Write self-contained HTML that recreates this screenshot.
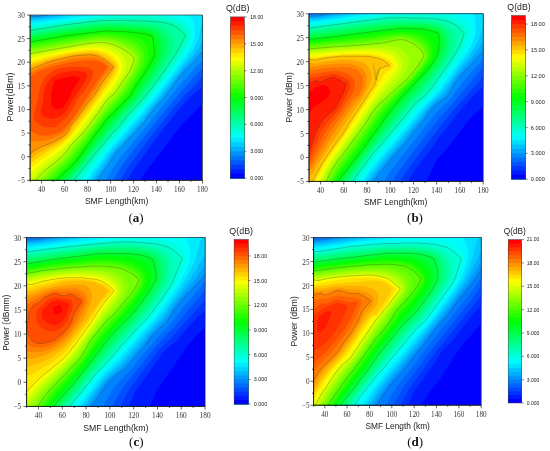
<!DOCTYPE html>
<html><head><meta charset="utf-8"><title>Q factor contour maps</title>
<style>html,body{margin:0;padding:0;background:#fff}svg{display:block}</style></head>
<body>
<svg width="550" height="451" viewBox="0 0 550 451">
<rect width="550" height="451" fill="#fff"/>
<g id="plot-a">
<clipPath id="cpa"><rect x="30.1" y="15.0" width="172.4" height="165.3"/></clipPath>
<g clip-path="url(#cpa)" shape-rendering="geometricPrecision">
<rect x="30.1" y="15.0" width="172.4" height="165.3" fill="#0000ff"/>
<path d="M18.1,3 214.5,3 214.5,95.8 211.5,94.9 210.5,95.4 201.4,104.9 183.5,122.4 151.5,164 134.5,187.7 131.6,192.3 18.1,192.3 18.1,3Z" fill="#001dff" fill-rule="evenodd"/>
<path d="M18.1,3 214.5,3 214.5,77.2 207.5,82.4 201.8,87.4 196,91.9 191,96.4 186.5,100.9 177.5,110.9 151.5,144.4 137,164.8 131.5,172.8 128,179.3 124,185.4 120.1,192.3 18.1,192.3 18.1,3Z" fill="#003aff" fill-rule="evenodd"/>
<path d="M18.1,3 214.5,3 214.5,72.3 210,73.2 203,76.1 199.1,80.9 184,96 173.2,108.4 146,142.9 129.4,165.3 124.6,172.8 119,182.8 116.6,188.3 115.9,192.3 18.1,192.3 18.1,3Z" fill="#0057ff" fill-rule="evenodd"/>
<path d="M18.1,3 214.5,3 214.5,66 207.5,66.8 203,67.9 202,68.6 182,90.6 169.1,105.9 134.9,148.3 123.5,163.4 117.3,173.3 113.3,180.8 111.2,186.8 110.4,192.3 18.1,192.3 18.1,3Z" fill="#0075ff" fill-rule="evenodd"/>
<path d="M18.1,3 214.5,3 214.5,57.7 208.5,58.5 203.5,59.9 202,60.7 188.9,74.4 180.5,84.2 158.5,111.1 147,125.8 132.7,142.4 120,157.8 111.1,171.3 106.6,179.3 103.8,186.3 102.9,192.3 18.1,192.3 18.1,3ZM30.6,14.4 30.4,15 31.1,15.2 33.7,15 34.2,14.5 32.6,14.1 30.6,14.4Z" fill="#0092ff" fill-rule="evenodd"/>
<path d="M18.1,3 29.8,3 28.4,11.5 28.4,14.5 28.8,15.5 30.1,16.5 33.1,17 44.1,15.8 48.6,15 49.6,14.5 47.8,6.5 47.4,3 214.5,3 214.5,40.9 213,40.6 212.5,40.9 204,49.7 202.7,51.4 201.5,52.4 194,60.8 184.5,70.4 180,75.8 162.7,98.9 154.5,107.9 143.5,122.6 129.3,137.9 123,145.2 116.1,151.9 114.6,154 110.3,161.3 95.6,181.9 90.1,190.2 89,192.3 18.1,192.3 18.1,3Z" fill="#00afff" fill-rule="evenodd"/>
<path d="M63.8,3 214.5,3 214.5,32.5 211.5,33 208.5,34.3 206,36.2 203,39.3 199.3,47.5 196.1,52.4 191.7,57.9 179.2,72.4 161.8,95.4 152.4,106.4 141.5,120.4 121.7,142.4 113.7,150.8 107.1,160.6 91.5,182.3 87.9,188.3 87,190.3 86.6,192.3 18.1,192.3 18.1,11.5 20.1,11.9 22.1,12.8 28.6,17.8 32.1,18.7 35.6,18.8 40.1,18.4 60.3,15.5 62.7,15 63.7,14.5 63.9,14 63.8,3Z" fill="#00ccff" fill-rule="evenodd"/>
<path d="M79.2,3 214.5,3 214.5,15.2 212,15.5 209,16.5 203.5,19.4 202.5,20.3 201.4,23.5 199.6,34 197.8,40.5 195.3,46.5 191.6,52.4 187.6,57.9 176.5,71.7 160.5,92.9 143.5,113.7 110.7,150.8 93.9,173.8 89.1,180.9 85.6,187.3 84.7,189.8 84.4,192.3 18.1,192.3 18.1,17.5 21.6,18 29.6,20.4 35.6,20.8 46.1,19.6 76.9,15 78.3,14.5 78.6,14 79.2,3Z" fill="#00e9ff" fill-rule="evenodd"/>
<path d="M96.7,3 184.7,3 185.2,14.5 189.4,17 191.5,19 193.2,22 194.5,26.4 195,30.5 194.8,35 194.1,39 192.6,43.5 189.8,49 185.6,55.4 158.5,91.4 141,112.7 110.6,147.2 93.3,169.8 87.6,177.8 84.3,183.3 82.4,187.8 81.6,192.3 18.1,192.3 18.1,21.5 30.6,22.9 37.6,22.7 94.5,15 95.8,14.5 96.1,14 96.7,3Z" fill="#00fff8" fill-rule="evenodd"/>
<path d="M123,3.5 123.1,3 153.1,3 153.7,9 154.8,14 155.3,14.5 157.1,15 169,16.4 174.5,17.5 180,19.2 184,21.4 186.5,23.6 188.7,26.5 190.1,29.5 191,33 191,36 190.4,39.5 189.1,43 186.9,47.5 179.9,58.4 155.3,91.4 142,107.6 108.9,145.3 88.6,171.3 84,177.8 80.7,183.3 78.9,187.8 78.2,192.3 18.1,192.3 18.1,25.1 30.1,25.3 37.6,24.9 79.6,18.9 119.7,14.5 120.5,13.7 121.9,10 122.7,6.5 123,3.5Z" fill="#00ffdb" fill-rule="evenodd"/>
<path d="M134.1,17.5 140,17.3 146.5,17.6 161,18.8 167,19.7 172,20.8 176,22.2 179.5,24.1 182.5,26.3 185,28.8 187,31.7 187.9,34 188,36.5 187.2,39.5 185.2,44 178.2,55.9 158.4,83.4 143.7,101.9 130,116.9 121.9,126.9 110.1,140.1 98.6,153.8 84.1,172.3 79.5,178.8 76.2,184.3 74.4,188.8 73.8,192.3 18.1,192.3 18.1,28.5 27.6,28.1 36.6,27.2 70.6,22.1 95.6,19.1 110.1,18 134.1,17.5Z" fill="#00ffbd" fill-rule="evenodd"/>
<path d="M102.9,20.5 126,20.4 130.5,20.8 147,21 161,22.1 167,23.3 173.5,25.4 175.5,26.5 179.5,29.4 184.9,34.5 185.2,35.5 185,36.5 182.5,41.9 175.9,53.9 164.2,70.9 152.9,86.4 139,103.6 127.5,115.4 119.8,125.4 113.2,132.4 97.5,150.8 82.5,169.3 74,180.3 68.6,187.8 65.8,192.3 18.1,192.3 18.1,32.2 67.6,24.5 90.6,21.6 102.9,20.5Z" fill="#00ffa0" fill-rule="evenodd"/>
<path d="M102.3,22.5 123.5,22.4 145.5,23.3 156.3,25 160,26 163.5,27.5 167,29.7 170,32.5 172.3,36 173.4,39.5 173.6,43.5 172.9,47.5 171.5,51.9 169.3,56.9 165,64.4 156.3,77.4 142,96.4 136.6,102.9 125.7,114.4 96.1,149.5 69.4,182.8 65.1,189 64.2,190.8 63.8,192.3 18.1,192.3 18.1,34.1 25.6,33.2 68.1,26.4 91.1,23.5 102.3,22.5Z" fill="#00ff83" fill-rule="evenodd"/>
<path d="M100,24.5 107.6,24.1 120.5,24.2 142.5,25.2 152,26.7 155.5,27.8 158.5,29.2 161.8,31.5 164.7,34.5 166.7,38 167.8,42 168,46 167.4,50.4 166,55.4 163.8,60.4 160.2,66.9 154.6,75.4 139,96.9 134.4,102.4 124,113.4 110.1,129.5 95.6,147.2 84.1,161.9 69.1,179.8 63.8,187.3 62.7,189.8 62.2,192.3 18.1,192.3 18.1,35.8 26.1,34.9 67.6,28.3 88.6,25.6 100,24.5Z" fill="#00ff66" fill-rule="evenodd"/>
<path d="M103.6,26 123,26.1 141.5,27.2 150,28.6 153.5,29.8 156,31.1 158.9,33.5 161.2,36.5 162.8,40 163.7,44 163.8,48.5 163.1,52.9 161.8,57.4 159.7,62.4 156.5,67.9 152,74.9 135.3,98.4 121.8,112.9 110.1,126.2 97.6,141.6 82,161.8 64.8,181.8 61.4,187.3 60.4,189.8 60.1,192.3 18.1,192.3 18.1,37.6 27.1,36.7 68.1,30.1 90.6,27.2 103.6,26Z" fill="#00ff49" fill-rule="evenodd"/>
<path d="M100.5,28 112.1,27.6 125,28 137,28.8 147,30.1 151,31.3 153.7,32.5 156.1,34.5 157.8,37 159.2,40.5 160.1,45 160.3,49.5 159.8,53.9 158.7,57.9 157,61.9 151.1,71.9 133.6,97.4 109.6,123.4 96.6,139.7 80.6,161.1 75.1,167.5 63.2,180.3 60.6,183.8 58.9,186.8 57.8,189.8 57.4,192.3 18.1,192.3 18.1,39.5 27.1,38.6 66.6,32.1 100.5,28Z" fill="#00ff2c" fill-rule="evenodd"/>
<path d="M102.8,29.5 111.1,29.3 124,29.7 136,30.7 146.5,32.1 150.5,33.2 153,34.4 154.6,36 155.7,39 156.7,43.5 157.1,48 157.2,51.9 156.8,55.4 155.9,58.4 154.5,61.4 150.1,68.9 136.5,89.2 132,96.6 107.9,121.9 95.1,138.4 79.1,160.3 73.6,166.7 65.1,174.8 59.7,180.8 55.3,187.3 54.3,189.8 53.9,192.3 18.1,192.3 18.1,41.6 27.1,40.5 64.1,34.3 102.8,29.5Z" fill="#00ff0f" fill-rule="evenodd"/>
<path d="M101.4,31.5 104.6,31 110.1,31 115.1,31.5 125.5,31.7 144,33.8 146.9,34.5 151.5,36.1 152.5,37 153.1,40.5 154.3,50.9 154.2,55.4 152.4,59.9 148.4,66.9 139.7,79.9 133.7,89.4 130.5,95.4 107.1,119.2 93.6,136.8 83.2,151.8 77.6,159.4 69.7,167.8 63.9,172.8 59.6,177.1 50.6,187.3 46.8,192.3 18.1,192.3 18.1,43.9 64.1,36.1 101.4,31.5Z" fill="#0fff00" fill-rule="evenodd"/>
<path d="M100.4,33.5 110.1,33.2 125,34.8 130.5,35.9 135.5,37.3 139,38.7 142.1,40.5 144.5,42.7 146.4,45.5 147.8,49 148.4,52.4 148.5,55.4 147.9,58.9 146.6,62.9 144.8,66.9 140.4,74.4 127.4,94.9 106.1,117.5 91.2,136.9 74.9,158.8 69.8,164.3 61.1,172.3 53.3,180.3 46.6,188.4 45.2,190.8 44.8,192.3 18.1,192.3 18.1,45.6 23.1,45 68.1,37.5 100.4,33.5Z" fill="#2cff00" fill-rule="evenodd"/>
<path d="M98.8,35.5 109.1,35.3 122,37.2 127,38.4 131.5,40 135,41.7 138,43.7 140.5,46.2 142.3,49 143.6,51.9 144.2,54.9 144.2,57.9 143.7,61.4 142.4,65.4 140.6,69.4 134.5,79.7 125,94 104.6,116.5 72.1,158.6 67.1,163.8 55.3,174.8 48.3,182.3 44.4,187.8 43.4,190.3 43.1,192.3 18.1,192.3 18.1,47.3 26.6,46.3 69.1,39.2 85.6,36.9 98.8,35.5Z" fill="#49ff00" fill-rule="evenodd"/>
<path d="M96.3,37.5 102.1,37.1 107.1,37.2 117.5,38.8 123,40.3 127.5,41.9 131.5,43.9 134.5,46 137,48.3 139,50.9 140.2,53.4 140.9,56.4 141,59.4 140.4,62.9 139.3,66.4 137.4,70.4 132,79.6 123,92.9 119.3,97.4 111.1,105.9 105.6,112.4 92.3,129.9 71.9,155.3 65.9,161.8 51.4,175.3 45.6,181.7 42,187.3 41.1,189.8 40.8,192.3 18.1,192.3 18.1,49.1 27.6,48.1 76.3,40 96.3,37.5Z" fill="#66ff00" fill-rule="evenodd"/>
<path d="M101.2,39 105.6,39 110.1,39.6 115.1,40.6 120,42 124,43.6 128,45.5 131.5,47.8 134.1,50 136,52.2 137.4,54.4 138.2,56.4 138.5,58.9 138.2,61.4 137.3,64.9 134.2,71.9 127,83.2 119.4,93.9 116.5,97.3 111.4,102.4 108.1,106.2 90.1,129.9 76.5,145.8 69.4,154.8 63.8,160.8 48.8,174.3 43.3,180.3 40.9,183.8 39.2,186.8 38.2,189.8 37.9,192.3 18.1,192.3 18.1,51 28.1,49.9 82.1,40.9 94.6,39.4 101.2,39Z" fill="#83ff00" fill-rule="evenodd"/>
<path d="M95.8,41 105.1,40.8 109.6,41.5 114.6,42.7 119,44.2 122.9,46 127,48.3 130.5,50.8 134.9,54.9 135.9,56.4 136.4,57.9 136.3,59.9 135.7,62.4 134.4,66.4 132.7,70.4 127.6,78.4 116.8,93.9 114.8,96.4 110.6,99.9 107.1,103.9 91.8,124.9 85.4,132.9 74.4,144.9 68.3,152.8 64.9,156.8 59.5,161.8 46.7,172.8 41,178.8 38,182.8 35.9,186.3 34.6,189.3 34.1,192.3 18.1,192.3 18.1,53.1 30.6,51.4 80.6,42.9 95.8,41Z" fill="#a0ff00" fill-rule="evenodd"/>
<path d="M94.7,43 97.1,42.6 104.6,42.6 113.1,44.6 120.8,48 127.2,51.9 131,54.9 134,57.9 134,59.4 133.5,61.3 130.5,69.7 125.5,77.4 113.6,94.7 111.6,95.7 106.4,100.9 99.9,110.4 87.1,127.9 82,133.9 72.2,143.9 70.1,146.3 66.4,151.8 64.1,154.5 57.7,160.3 46.3,169.3 40.8,174.3 29.3,188.3 26.5,192.3 18.1,192.3 18.1,55.4 34.1,52.9 84.1,44.1 94.7,43Z" fill="#bdff00" fill-rule="evenodd"/>
<path d="M89.3,45.5 98.6,45 105.6,45.9 109.6,47.1 113.6,48.7 117,50.6 120.4,52.9 122.5,55 124.5,57.4 125.6,59.4 126.3,61.9 126.5,64.4 126.2,67.4 125.3,70.4 124,73.4 120.8,78.9 114.4,88.4 112.1,91.4 104.1,100.3 86.7,124.4 79.7,132.9 69.4,143.9 64.1,150.2 58.1,155.8 44.1,166.7 38.6,171.4 34.2,176.3 31.9,180.8 31.1,181.8 29.6,182.6 21.6,185.7 18.1,186.5 18.1,57.7 26.6,56.7 53.1,51.4 73.1,47.7 89.3,45.5Z" fill="#dbff00" fill-rule="evenodd"/>
<path d="M88.3,47.5 97.1,47.4 104.1,48.5 111.1,51.2 114.1,52.9 117,55.2 119,57.3 120.5,59.4 121.7,61.9 122.2,64.4 122.3,66.9 121.9,69.4 121,72.4 119.6,75.4 116.6,80.4 112.1,86.9 102.5,98.9 84.4,123.4 74.2,135.9 64.6,146 57.1,152.7 38.3,166.8 27.6,176.5 23.6,177.9 18.1,178.5 18.1,60.2 22.6,59.9 27.6,59 51.1,53.6 68.1,50.3 79.1,48.5 88.3,47.5Z" fill="#f8ff00" fill-rule="evenodd"/>
<path d="M86.3,49.5 94.6,49.3 101.6,50.5 105.1,51.6 108.6,53.2 111.5,54.9 114.1,56.9 116,58.9 117.5,60.9 118.5,62.9 119.1,65.4 119.2,67.4 118.8,69.9 116.5,75.4 109.6,85.9 84.6,119.4 72.8,134.4 68.1,139.7 63.1,144.3 58.1,148.4 42.2,159.3 29.1,169 26.1,170.8 23.6,171.9 21.1,172.5 18.1,172.8 18.1,62.9 22.6,62.6 27.6,61.7 50.6,55.6 65.6,52.4 75.6,50.7 86.3,49.5Z" fill="#ffe900" fill-rule="evenodd"/>
<path d="M83.8,51.4 91.6,51.1 97.6,51.8 104.1,53.9 110.1,57.3 112.6,59.4 114.5,61.4 115.8,63.4 116.6,65.4 116.8,66.9 116.6,68.9 114.6,73.8 110.6,79.9 97.5,98.4 70.4,134.4 67.3,137.9 63.1,141.5 58.1,145.2 41.6,155.4 27.6,165.2 22.6,167.7 18.1,168.5 18.1,65.8 22.6,65.4 28.1,64.3 48.6,58 55.6,56.2 72.1,52.9 83.8,51.4Z" fill="#ffcc00" fill-rule="evenodd"/>
<path d="M87.4,52.9 92.1,52.8 97.1,53.8 102.8,55.9 108.6,59.4 112.6,62.9 114.8,65.9 114.9,67.9 113.1,71.7 95.6,97.4 87.9,106.9 79.9,117.9 74,125.4 68.9,133.4 66.6,136.1 63.1,139 59.1,141.7 53.1,145.2 39.7,152.3 24.4,162.8 20.6,164.8 18.1,165.3 18.1,69.2 22.1,68.7 28.6,67 47.6,60.3 54.1,58.3 72.6,54.4 80.6,53.4 87.4,52.9Z" fill="#ffaf00" fill-rule="evenodd"/>
<path d="M87,54.9 91.1,54.6 95.1,55.2 100.1,57.2 104.1,59.3 109.8,63.4 112.9,66.4 113,67.4 111.9,69.4 102.9,81.4 95.1,94.1 87.5,103.4 78.2,116.4 70.6,125.8 67.6,131.8 65.6,134.5 62.5,136.9 58.1,139.5 48.1,144.4 41.1,147 38.1,148.5 34.1,151 23.3,158.8 18.1,162.2 18.1,73.6 32.1,68.7 48.1,62.2 52.6,60.7 72.6,56.1 81.1,55.1 87,54.9Z" fill="#ff9200" fill-rule="evenodd"/>
<path d="M87.1,57.4 91.1,57.3 95.1,57.7 97.6,58.4 102.1,60.1 105.6,62.2 108.9,64.9 109.8,66.4 109.7,67.9 108.6,69.9 101.3,79.9 93.8,91.4 85.8,102.4 77.1,115.3 65.6,130.4 63.1,133 59.6,135.2 53.6,138 48.1,139.7 42.6,140.8 36.6,141.5 18.1,142 18.1,77.1 20.1,76.8 22.6,76 39.6,68.1 52.6,63.6 73.1,58.8 87.1,57.4Z" fill="#ff7500" fill-rule="evenodd"/>
<path d="M85.6,60.4 88.6,60.2 96.2,60.4 100.8,61.9 102.9,62.9 106.7,65.9 107.2,66.9 88.5,94.4 75.1,115.3 69.1,123.2 62.6,129.9 58.7,132.4 51.6,135.1 48.1,135.6 40.1,135.6 37.7,134.9 33.8,132.9 22,124.9 18.1,122.7 18.1,83.2 23.1,80.6 38.3,71.4 44.5,68.9 54.1,66 72.6,61.7 80.1,60.7 85.6,60.4Z" fill="#ff5700" fill-rule="evenodd"/>
<path d="M69.4,66.9 73.6,66.5 77.1,66.8 83.1,66.9 87.6,67.5 89.1,68 92.5,70.4 93.2,71.4 93,73.9 91.8,79.4 85.1,90.1 78.1,98.4 74.9,105.4 72.4,109.4 67.8,115.9 64.6,119.3 55.6,126.9 49.1,127.3 45.6,127.2 44.3,126.9 36.1,122.6 34,118.4 33.7,116.9 34.5,111.4 37.6,100.2 39.9,87.9 41.8,82.9 44.2,77.9 46.4,75.9 54.6,69.6 58.6,68.6 69.4,66.9Z" fill="#ff3a00" fill-rule="evenodd"/>
<path d="M69.5,71.4 71.6,71 74.1,71 82.1,71.6 85.1,72.4 87,73.9 87.5,74.9 84.8,81.4 79.4,90.4 72.4,100.4 67.8,108.4 61.6,115.4 58.9,116.9 52.6,119 49.6,118.5 44,116.9 41.6,113.4 40.8,110.9 43,101.4 44.4,89.9 46.1,84.8 51.1,78.1 57.1,74.4 60.6,72.7 69.5,71.4Z" fill="#ff1d00" fill-rule="evenodd"/>
<path d="M70.4,76.4 73.1,76 78.4,76.9 79.6,78.1 79.9,78.9 79.7,79.4 72.3,90.4 68.6,99.1 63.6,107.1 62.7,107.9 59.2,108.9 57.1,109.3 55.6,108.9 52.4,106.9 51.6,105.9 51.3,101.9 51.3,92.9 52.9,85.4 54.6,81.1 55.7,79.9 70.4,76.4Z" fill="#ff0000" fill-rule="evenodd"/>
<path d="M29.8,3 29.5,5.5 28.4,11.5 28.4,14.5 28.8,15.5 30.1,16.5 33.1,17 37.1,16.7 44.1,15.8 48.6,15 49.6,14.5 49.7,14 47.8,6.5 47.4,3M214.5,40.9 213,40.6 212.5,40.9 204,49.7 202.7,51.4 201.5,52.4 194,60.8 184.5,70.4 180,75.8 162.7,98.9 154.5,107.9 143.5,122.6 129.3,137.9 123,145.2 116.1,151.9 114.6,154 110.3,161.3 95.6,181.9 90.1,190.2 89,192.3M18.1,32.2 34.6,29.8 64.1,25 90.6,21.6 100.1,20.9 102.9,20.5 126.5,20.4 130.5,20.8 147.5,21 149.5,21.3 161,22.1 166.5,23.1 172.3,25 175.5,26.5 181.4,31 184.9,34.5 185.2,35 185,36.5 182.5,41.9 176,53.8 164.2,70.9 152.9,86.4 139,103.6 127.5,115.4 122.5,122 119.8,125.4 113.2,132.4 102.8,144.9 97.5,150.8 82.5,169.3 74,180.3 68.6,187.8 65.8,192.3M18.1,43.9 33.6,41.4 64.1,36.1 104.6,31 111.6,31 115.1,31.5 125,31.6 127,32 130.5,32.2 140.5,33.3 144.5,33.9 148.5,35 151.5,36.1 152.2,36.5 152.5,37.2 153.1,40.5 154.3,50.9 154.2,54.9 153.6,57.4 148.7,66.4 135.6,86.4 132.8,90.9 130.6,95.4 107.1,119.2 105.3,121.4 99.5,129.4 93.6,136.8 83.2,151.8 77.6,159.4 74.1,163.5 69.7,167.8 63.9,172.8 59.6,177.1 50.6,187.3 47.1,191.7 46.8,192.3M18.1,55.4 19.6,55.4 34.1,52.9 84.1,44.1 97.1,42.6 103.6,42.6 107.6,43.2 113.6,44.8 117.8,46.5 120.8,48 125,50.4 127.2,51.9 133.2,56.9 134,57.9 134.1,58.4 134,59.4 132.5,64.5 130.7,69.4 129.6,71.4 125.5,77.4 113.6,94.7 113.1,95.1 111.6,95.7 109.6,97.5 105.2,102.4 100.2,109.9 87.1,128 82,133.9 72.2,143.9 70.1,146.3 66.4,151.8 63.6,155 57.7,160.3 43.4,171.8 39.8,175.3 28.5,189.3 26.5,192.3M18.1,73.6 20.6,72.9 32.1,68.7 48.1,62.2 52.6,60.7 72.6,56.1 81.1,55.1 91.6,54.6 96.6,55.7 101.1,57.7 105.6,60.2 110.1,63.7 112.4,65.9 113.1,66.9 111.9,69.4 102.9,81.4 95.1,94.1 93,96.9 91.6,98.4 87.5,103.4 83,109.4 78.2,116.4 70.6,125.8 67.6,131.8 65.6,134.5 62.5,136.9 58.1,139.5 48.1,144.4 41.1,147 38.1,148.5 34.1,151 23.3,158.8 18.1,162.2" fill="none" stroke="#3c3c28" stroke-opacity=".6" stroke-width=".5"/>
</g>
<rect x="30.1" y="15.0" width="172.4" height="165.3" fill="none" stroke="#333" stroke-width=".7"/>
<path d="M30.1,15.0V180.3H202.5" fill="none" stroke="#111" stroke-width=".75"/>
<path d="M30.1,180.3v1.7M41.6,180.3v3.1M53.1,180.3v1.7M64.6,180.3v3.1M76.1,180.3v1.7M87.6,180.3v3.1M99.1,180.3v1.7M110.6,180.3v3.1M122,180.3v1.7M133.5,180.3v3.1M145,180.3v1.7M156.5,180.3v3.1M168,180.3v1.7M179.5,180.3v3.1M191,180.3v1.7M202.5,180.3v3.1M30.1,180.3h-3.1M30.1,168.5h-1.7M30.1,156.7h-3.1M30.1,144.9h-1.7M30.1,133.1h-3.1M30.1,121.3h-1.7M30.1,109.5h-3.1M30.1,97.7h-1.7M30.1,85.8h-3.1M30.1,74h-1.7M30.1,62.2h-3.1M30.1,50.4h-1.7M30.1,38.6h-3.1M30.1,26.8h-1.7M30.1,15h-3.1" stroke="#111" stroke-width=".65" fill="none"/>
<g font-family="'Liberation Serif',serif" font-size="7.2" fill="#333">
<text x="41.6" y="191.7" text-anchor="middle">40</text>
<text x="64.6" y="191.7" text-anchor="middle">60</text>
<text x="87.6" y="191.7" text-anchor="middle">80</text>
<text x="110.6" y="191.7" text-anchor="middle">100</text>
<text x="133.5" y="191.7" text-anchor="middle">120</text>
<text x="156.5" y="191.7" text-anchor="middle">140</text>
<text x="179.5" y="191.7" text-anchor="middle">160</text>
<text x="202.5" y="191.7" text-anchor="middle">180</text>
<text x="24.8" y="183.3" text-anchor="end">−5</text>
<text x="24.8" y="159.7" text-anchor="end">0</text>
<text x="24.8" y="136" text-anchor="end">5</text>
<text x="24.8" y="112.4" text-anchor="end">10</text>
<text x="24.8" y="88.8" text-anchor="end">15</text>
<text x="24.8" y="65.2" text-anchor="end">20</text>
<text x="24.8" y="41.6" text-anchor="end">25</text>
<text x="24.8" y="18" text-anchor="end">30</text>
</g>
<text transform="translate(13.2,97.0) rotate(-90)" text-anchor="middle" font-family="'Liberation Sans',sans-serif" font-size="8.8" fill="#222" textLength="48.8" lengthAdjust="spacingAndGlyphs">Power(dBm)</text>
<text x="116.7" y="204.1" text-anchor="middle" font-family="'Liberation Sans',sans-serif" font-size="8.6" fill="#222" textLength="63.5" lengthAdjust="spacingAndGlyphs">SMF Length(km)</text>
<text x="136.0" y="222.3" text-anchor="middle" font-family="'Liberation Serif',serif" font-size="13" fill="#111">(<tspan font-weight="bold">a</tspan>)</text>
<rect x="230.5" y="16.90" width="13.8" height="161.30" fill="#ff0000"/>
<rect x="230.5" y="21.38" width="13.8" height="156.82" fill="#ff1d00"/>
<rect x="230.5" y="25.86" width="13.8" height="152.34" fill="#ff3a00"/>
<rect x="230.5" y="30.34" width="13.8" height="147.86" fill="#ff5700"/>
<rect x="230.5" y="34.82" width="13.8" height="143.38" fill="#ff7500"/>
<rect x="230.5" y="39.30" width="13.8" height="138.90" fill="#ff9200"/>
<rect x="230.5" y="43.78" width="13.8" height="134.42" fill="#ffaf00"/>
<rect x="230.5" y="48.26" width="13.8" height="129.94" fill="#ffcc00"/>
<rect x="230.5" y="52.74" width="13.8" height="125.46" fill="#ffe900"/>
<rect x="230.5" y="57.22" width="13.8" height="120.97" fill="#f8ff00"/>
<rect x="230.5" y="61.71" width="13.8" height="116.49" fill="#dbff00"/>
<rect x="230.5" y="66.19" width="13.8" height="112.01" fill="#bdff00"/>
<rect x="230.5" y="70.67" width="13.8" height="107.53" fill="#a0ff00"/>
<rect x="230.5" y="75.15" width="13.8" height="103.05" fill="#83ff00"/>
<rect x="230.5" y="79.63" width="13.8" height="98.57" fill="#66ff00"/>
<rect x="230.5" y="84.11" width="13.8" height="94.09" fill="#49ff00"/>
<rect x="230.5" y="88.59" width="13.8" height="89.61" fill="#2cff00"/>
<rect x="230.5" y="93.07" width="13.8" height="85.13" fill="#0fff00"/>
<rect x="230.5" y="97.55" width="13.8" height="80.65" fill="#00ff0f"/>
<rect x="230.5" y="102.03" width="13.8" height="76.17" fill="#00ff2c"/>
<rect x="230.5" y="106.51" width="13.8" height="71.69" fill="#00ff49"/>
<rect x="230.5" y="110.99" width="13.8" height="67.21" fill="#00ff66"/>
<rect x="230.5" y="115.47" width="13.8" height="62.73" fill="#00ff83"/>
<rect x="230.5" y="119.95" width="13.8" height="58.25" fill="#00ffa0"/>
<rect x="230.5" y="124.43" width="13.8" height="53.77" fill="#00ffbd"/>
<rect x="230.5" y="128.91" width="13.8" height="49.29" fill="#00ffdb"/>
<rect x="230.5" y="133.39" width="13.8" height="44.81" fill="#00fff8"/>
<rect x="230.5" y="137.88" width="13.8" height="40.32" fill="#00e9ff"/>
<rect x="230.5" y="142.36" width="13.8" height="35.84" fill="#00ccff"/>
<rect x="230.5" y="146.84" width="13.8" height="31.36" fill="#00afff"/>
<rect x="230.5" y="151.32" width="13.8" height="26.88" fill="#0092ff"/>
<rect x="230.5" y="155.80" width="13.8" height="22.40" fill="#0075ff"/>
<rect x="230.5" y="160.28" width="13.8" height="17.92" fill="#0057ff"/>
<rect x="230.5" y="164.76" width="13.8" height="13.44" fill="#003aff"/>
<rect x="230.5" y="169.24" width="13.8" height="8.96" fill="#001dff"/>
<rect x="230.5" y="173.72" width="13.8" height="4.48" fill="#0000ff"/>
<rect x="230.5" y="16.9" width="13.8" height="161.3" fill="none" stroke="#444" stroke-width=".5"/>
<g font-family="'Liberation Sans',sans-serif" font-size="5.3" fill="#222">
<text x="250.2" y="180.1" textLength="13.0" lengthAdjust="spacingAndGlyphs">0.000</text>
<text x="250.2" y="153.2" textLength="13.0" lengthAdjust="spacingAndGlyphs">3.000</text>
<text x="250.2" y="126.3" textLength="13.0" lengthAdjust="spacingAndGlyphs">6.000</text>
<text x="250.2" y="99.5" textLength="13.0" lengthAdjust="spacingAndGlyphs">9.000</text>
<text x="250.2" y="72.6" textLength="13.0" lengthAdjust="spacingAndGlyphs">12.00</text>
<text x="250.2" y="45.7" textLength="13.0" lengthAdjust="spacingAndGlyphs">15.00</text>
<text x="250.2" y="18.8" textLength="13.0" lengthAdjust="spacingAndGlyphs">18.00</text>
</g>
<path d="M244.3,178.2h2.2M244.3,151.3h2.2M244.3,124.4h2.2M244.3,97.5h2.2M244.3,70.7h2.2M244.3,43.8h2.2M244.3,16.9h2.2" stroke="#333" stroke-width=".6" fill="none"/>
<text x="237.7" y="11.1" text-anchor="middle" font-family="'Liberation Sans',sans-serif" font-size="8.8" fill="#222" textLength="23.6" lengthAdjust="spacingAndGlyphs">Q(dB)</text>
</g>
<g id="plot-b">
<clipPath id="cpb"><rect x="309.0" y="13.8" width="174.2" height="167.6"/></clipPath>
<g clip-path="url(#cpb)" shape-rendering="geometricPrecision">
<rect x="309.0" y="13.8" width="174.2" height="167.6" fill="#0000ff"/>
<path d="M297,1.8 495.2,1.8 495.2,96.8 494.2,96.6 493.7,96.9 489.5,100.4 483.3,106.4 476.3,112.4 468.2,120.5 451.9,142.4 445.4,150.4 437.6,159.1 431.6,169.7 421.1,193.4 297,193.4 297,1.8Z" fill="#001cff" fill-rule="evenodd"/>
<path d="M297,1.8 495.2,1.8 495.2,77 494.2,76.9 493.7,77.2 490.7,79.7 476.2,93.3 463.2,106.9 456.7,114.9 446.3,128.4 438.6,137.8 431.1,148.7 424.6,156.9 416.1,168.4 402.6,190.2 400.9,193.4 297,193.4 297,1.8Z" fill="#0037ff" fill-rule="evenodd"/>
<path d="M297,1.8 495.2,1.8 495.2,71.3 492.7,71.6 489.7,72.5 483.7,75.7 480.2,80.3 467.2,94.4 445.8,119.4 433.9,134.4 414.2,160.4 408.5,168.4 402.4,177.9 398.8,184.4 396.8,189.4 396.1,193.4 297,193.4 297,1.8Z" fill="#0053ff" fill-rule="evenodd"/>
<path d="M297,1.8 495.2,1.8 495.2,64.8 489.7,65.3 483.2,66.7 455.4,100.4 438.8,118.9 407.2,159.4 398.6,171.4 394.7,177.9 392,183.4 390.5,188.4 389.9,193.4 297,193.4 297,1.8Z" fill="#006eff" fill-rule="evenodd"/>
<path d="M297,1.8 495.2,1.8 495.2,56.5 488.7,57.3 483.7,58.6 482.7,59.2 464.2,80.3 451.2,97.9 447.7,101.6 439.3,109.4 435.2,113.9 410.6,145.4 397.8,160.9 390.5,170.9 386.4,177.4 383.5,183.4 381.9,188.4 381.3,193.4 297,193.4 297,1.8ZM313,10.3 310.5,11 309,12.2 308.4,13.3 308.5,13.8 309,14.5 310.5,14.8 313.5,14.7 318.3,13.8 318.9,13.3 318.2,12.3 316.5,11 315,10.4 313,10.3Z" fill="#008aff" fill-rule="evenodd"/>
<path d="M297,1.8 304.5,1.8 305.6,9.8 306.8,13.8 307.5,14.8 309,15.8 312.5,16.3 324.4,14.8 328.9,13.8 329.8,13.3 329.9,11.8 329.1,1.8 495.2,1.8 495.2,41.2 493.7,40.9 491.7,42.3 462.7,72.5 455.7,81.4 449.9,91.8 447.2,95.8 444.8,97.9 436.1,103.9 432.1,107.5 428.1,112.8 423.1,120.6 413.6,131.4 406.6,141.2 393.6,155.4 379.6,172.4 370.1,185.2 364.6,193.4 297,193.4 297,1.8Z" fill="#00a5ff" fill-rule="evenodd"/>
<path d="M342.5,1.8 495.2,1.8 495.2,33.6 492.2,34.1 489.7,35.3 487.2,37.1 483.7,40.5 479.3,47.8 475.4,53.3 461.2,69.8 455.1,77.3 445.1,92.7 442.1,95.8 433.1,103.2 429.9,106.4 426.6,110.4 420.6,118.7 411.9,128.9 403.6,139.8 391.5,153.4 380.2,166.9 366.6,185.1 363.3,190.4 362.3,193.4 297,193.4 297,11.5 300.5,12.4 307.5,17 311.5,17.9 319.5,17.4 339.1,14.3 341.4,13.8 342.3,13.3 342.5,12.8 342.5,1.8Z" fill="#00c1ff" fill-rule="evenodd"/>
<path d="M355.8,1.8 495.2,1.8 495.2,20.1 492.2,20.4 489.2,21.2 486.2,22.5 483.7,24 482.7,26.3 480.7,34.3 478,40.8 474.7,47.3 470,54.3 454.2,74.4 442.6,91 439.6,94.3 430.4,102.9 426.1,107.4 401,138.4 387.1,154.3 377.6,165.9 368.9,177.4 364.1,184.4 361.4,189.4 360.5,193.4 297,193.4 297,16.4 300.5,16.9 308.5,19.3 314.5,19.6 324,18.5 352.6,14.1 354.8,13.3 355,12.8 355.8,1.8Z" fill="#00ddff" fill-rule="evenodd"/>
<path d="M371.2,1.8 474.7,1.8 474,13.3 475.5,20.8 475.9,28.3 475.1,34.8 473.3,40.8 470.6,46.8 466.3,53.8 451.3,73.8 440.7,88.8 435.9,94.3 425.7,104.4 421.6,108.9 398.1,137.4 379.7,158.9 372.1,168.6 365.1,178.1 361.4,183.9 359,188.9 358.2,193.4 297,193.4 297,20 309.5,21.4 316.5,21.3 326.5,20.1 369,13.8 370.3,13.3 370.6,12.8 371.2,1.8Z" fill="#00f8ff" fill-rule="evenodd"/>
<path d="M390.1,1.8 452.4,1.8 452.9,8.3 454,13.3 460.2,15.4 464.2,17.9 467.4,21.3 469.7,25.9 470.7,30.3 470.7,34.8 469.6,39.8 467.3,45.3 464.3,50.8 459.7,57.8 437.3,88.8 430.3,96.8 421.8,104.9 418.1,108.9 372.6,163.4 363,176.4 359.1,182.4 356.3,188.4 355.4,193.4 297,193.4 297,23.1 310,23.5 318,23 386.4,13.8 387.8,13.3 388.1,12.8 389.7,6.3 390.1,1.8Z" fill="#00ffea" fill-rule="evenodd"/>
<path d="M422.4,14.8 429.1,14.6 432.6,14.9 444.1,16.5 451.7,18.2 456,19.8 459.4,21.8 462.7,24.7 465.2,27.8 466.7,30.8 467.2,33.3 466.9,36.3 465.9,39.8 464.1,44.3 461.8,48.8 453.6,61.8 437.4,84.3 430.8,92.8 426.8,97.3 419.7,103.4 416.3,106.9 389.6,138.9 372.5,158.9 359.9,175.9 356.9,180.4 353.2,187.9 352.2,190.9 351.9,193.4 297,193.4 297,26.2 310,25.6 318.5,24.8 366.1,18.4 388.6,15.8 396.6,15.3 422.4,14.8Z" fill="#00ffcf" fill-rule="evenodd"/>
<path d="M390.1,17.8 407.6,17.7 412.1,18.2 430.6,18.3 444.1,20.3 452.7,23.3 455.2,24.7 457.3,26.3 462.2,30.8 464.1,33.3 463.2,36.9 461.3,42.3 458.6,47.8 454.3,55.3 450.8,60.8 427.4,93.3 425.2,95.8 417.6,101.4 414.2,104.9 386.6,138.1 370.4,156.9 364,165.9 355.5,176.9 350,186.4 346.3,193.4 297,193.4 297,29.2 303.5,28.7 335,24.8 379.1,18.9 390.1,17.8Z" fill="#00ffb3" fill-rule="evenodd"/>
<path d="M391,19.8 406.1,19.6 429.6,20.5 435.1,21.3 440.6,22.6 444.2,23.8 447.7,25.6 450.7,27.8 453.4,30.8 455,33.8 455.9,37.3 455.9,40.8 454.9,45.3 453.1,50.3 450.4,55.8 442.1,68.8 426.6,89.7 422.9,93.8 415.4,100.4 408.6,107.7 368.4,156.4 353.5,176.4 346.6,188.1 345,191.3 344.5,193.4 297,193.4 297,31 308,30 375.6,21.4 391,19.8Z" fill="#00ff98" fill-rule="evenodd"/>
<path d="M390.4,21.8 405.6,21.4 427.6,22.3 432.6,23 437.6,24.2 441.1,25.5 444.1,27.2 447.2,29.8 449.4,32.8 450.9,36.3 451.4,39.8 451.2,43.8 450.2,48.3 448.4,53.3 446,58.3 439.1,69.1 426.6,85.5 422.1,90.7 412.6,99.9 405.4,107.9 366.3,156.4 353.9,172.9 349.5,179.4 344.5,187.9 343.3,190.9 342.9,193.4 297,193.4 297,32.8 312,31.5 376.1,23.3 390.4,21.8Z" fill="#00ff7c" fill-rule="evenodd"/>
<path d="M396.5,23.3 409.1,23.2 427.1,24.1 432.1,25 436.6,26.2 440.1,27.7 442.6,29.3 444.9,31.8 446.6,34.8 447.6,38.3 447.9,42.3 447.3,46.8 446.1,51.3 444.1,56.3 441.5,61.3 436.2,69.3 428.1,79.7 421.6,87.3 408.9,100.4 400.6,109.8 362.6,158.4 351.3,173.4 345.2,182.4 341.8,188.9 340.9,193.4 297,193.4 297,34.7 312,33.4 380.1,24.8 396.5,23.3Z" fill="#00ff60" fill-rule="evenodd"/>
<path d="M394,25.3 407.1,24.9 424.6,25.6 429.6,26.4 434.1,27.5 437.6,28.8 440.3,30.3 442.2,32.3 443.8,35.3 444.6,38.8 444.8,42.8 444.3,47.3 443,52.3 441.5,56.3 439.2,60.8 434.1,68.5 425.6,78.9 418.1,87.3 405.6,100.4 396.7,110.9 358.9,160.4 347.2,175.9 342.5,182.9 339.4,188.9 338.5,193.4 297,193.4 297,36.6 304.5,36.1 330,33.3 374.1,27.5 394,25.3Z" fill="#00ff45" fill-rule="evenodd"/>
<path d="M397.5,26.8 413.1,26.7 424.1,27.3 428.6,28.1 433.6,29.4 437.6,30.8 439.6,32 440.8,33.8 441.8,37.3 442.1,40.8 441.9,44.3 441.1,49.8 440.1,53.8 438.6,57.3 436.4,61.3 432.6,66.9 427.6,73 421.1,80.3 403.6,99 392.1,112.8 366.1,148.2 342.6,178.9 337,187.9 335.8,190.9 335.3,193.4 297,193.4 297,38.6 303,38.2 330.5,35.2 370.6,29.9 397.5,26.8Z" fill="#00ff29" fill-rule="evenodd"/>
<path d="M396.2,28.8 400.1,28.4 411.1,28.4 423.1,29.1 430.8,30.8 438.1,33.3 438.6,34.1 439.3,37.3 439.4,40.3 439.4,42.8 438.5,50.3 437.1,55.3 434.1,60.8 431.5,64.8 428.2,68.8 409.1,89.7 404.1,94.7 392.8,107.9 363.6,148.4 339.2,179.9 333,188.4 329.9,193.4 297,193.4 297,40.7 331,37.2 359.1,33.4 396.2,28.8Z" fill="#00ff0e" fill-rule="evenodd"/>
<path d="M395.5,30.8 404.6,30.4 415.1,31.2 420.6,32.3 424,33.3 427.3,34.8 430.2,36.8 432.1,38.9 433.6,41.6 434.5,44.8 434.9,48.3 434.7,51.8 434,55.3 432.8,58.3 430.7,62.3 426.6,67.8 421.9,73.3 410,86.3 398.4,98.4 387.4,111.4 361.6,147.3 340,175.5 331.5,187.7 329.3,191.4 328.5,193.4 297,193.4 297,42.2 335,38.4 395.5,30.8Z" fill="#0eff00" fill-rule="evenodd"/>
<path d="M394.6,32.8 403.6,32.3 413.1,33.5 420.8,35.8 423.8,37.3 426.5,39.3 428.6,41.7 430.1,44.2 431.2,47.3 431.7,50.3 431.7,53.3 431.2,56.3 430.1,59.3 428.5,62.3 425.3,66.8 419.5,73.8 409.6,84.7 393.8,100.9 383.6,112.9 360.7,144.9 339,173.6 330,187.7 328.3,190.9 327.6,193.4 297,193.4 297,43.6 304,43.2 340,39.5 373.6,35.7 394.6,32.8Z" fill="#29ff00" fill-rule="evenodd"/>
<path d="M398.2,34.3 405.6,34.4 413.6,36.1 420.1,38.8 424.6,42.3 426.3,44.3 427.8,46.8 428.7,49.3 429.3,52.3 429.3,54.8 428.9,57.3 426.5,62.3 420.5,70.3 412.3,79.8 399.1,92.8 389.1,103.4 384.5,108.4 380.5,113.4 361.6,140 337.5,172.3 328.9,186.9 327.1,190.9 326.6,193.4 297,193.4 297,45.1 305,44.6 363.6,38.9 377.6,37.2 398.2,34.3Z" fill="#45ff00" fill-rule="evenodd"/>
<path d="M396,36.3 403.1,36.1 409.6,37.2 416.4,39.8 421.6,43.4 423.6,45.4 425.3,47.8 426.6,50.7 427.3,53.3 427.5,55.3 427.1,57.3 424.9,61.8 419,69.8 410.4,79.8 398.3,91.3 384.9,104.9 377.7,113.4 361.3,136.9 340.6,164.4 336.4,170.4 332.5,176.9 327.7,186.4 326,190.4 325.4,193.4 297,193.4 297,46.6 365.1,40.7 380.1,38.9 396,36.3Z" fill="#60ff00" fill-rule="evenodd"/>
<path d="M398.1,37.8 403.6,37.8 410.1,39.5 415.6,42.1 420.6,45.9 422.5,47.8 423.8,49.8 425.9,54.8 426,55.8 425.6,57.2 423.3,61.3 418,68.8 408.2,80.3 398.1,89.3 389.1,98.2 382.3,104.4 375.2,112.9 367.9,123.9 361.1,133.6 339.1,162.9 335,168.8 331.5,174.9 326.8,184.9 324.6,190.4 323.9,193.4 297,193.4 297,48.2 369.6,42.2 382.1,40.7 398.1,37.8Z" fill="#7cff00" fill-rule="evenodd"/>
<path d="M398.2,39.8 403.2,39.8 409.3,41.8 414.1,44.3 419.8,48.8 422.6,52.8 423.9,55.8 423.1,57.6 420.1,62.4 414.1,70.8 407.1,79.2 397.6,87.2 387.2,97.3 380.4,102.9 372.1,112.8 364.9,124.4 345.9,150.4 336.9,161.9 332.1,169.4 327.8,178.4 321.9,193.4 297,193.4 297,49.8 312,48.8 339,46.4 359.6,45.2 375.6,43.8 383.6,42.8 398.2,39.8Z" fill="#98ff00" fill-rule="evenodd"/>
<path d="M380.5,45.8 389.6,45.7 395.6,46.4 400.6,48.3 404.6,51.4 406.2,53.3 407.6,55.8 408.4,58.3 408.8,60.8 408.7,63.3 408.1,66.3 405.6,72.3 403.4,75.8 400.5,79.3 385.3,94.8 378.6,101.3 374.6,105.9 370.1,111.9 363.4,122.4 352.1,138.4 335.3,160.9 330.5,168.2 327.6,173.9 321.9,187.4 320.2,193.4 297,193.4 297,51 312.5,50.4 340.5,48 380.5,45.8Z" fill="#b3ff00" fill-rule="evenodd"/>
<path d="M370.6,48.3 380.6,48.5 387.6,49.2 393,50.8 397.1,53.3 399.1,55.2 400.6,57.3 401.5,59.3 402.2,61.8 402.4,64.3 402.2,66.8 400.5,71.8 398.7,74.8 396.4,77.8 376.6,100 371.8,105.9 350,137.9 332.7,161.4 328.1,168.9 323.7,177.9 319.6,187.9 318.8,190.9 318.5,193.4 297,193.4 297,52.1 313.5,52 341,49.7 370.6,48.3Z" fill="#cfff00" fill-rule="evenodd"/>
<path d="M350.4,50.8 366.1,50.3 374.6,50.5 382.6,51.4 388.6,53 391.1,54.2 393.4,55.8 395.4,57.8 396.7,59.8 397.6,61.8 398.1,64.3 398,66.8 397.4,69.3 396.2,71.8 394.5,74.3 374.6,98.6 369.6,105.2 348,137.4 330.2,161.9 325.2,170.4 319.7,181.9 317.2,188.4 316.4,193.4 297,193.4 297,53.2 314.5,53.8 336.5,51.6 350.4,50.8Z" fill="#eaff00" fill-rule="evenodd"/>
<path d="M357.9,52.3 367.6,52.2 375.1,52.7 381.6,53.8 386.6,55.5 390.6,57.9 392.2,59.3 393.8,61.3 395.1,64.8 395,66.8 394.6,68.3 392.6,71.4 385.6,79.1 378.9,88.8 369.1,102 345.9,136.9 328,161.9 323.3,169.9 316.9,182.9 314.7,188.9 314,193.4 297,193.4 297,54.3 310.5,55.5 314.5,55.6 341.5,52.8 357.9,52.3Z" fill="#fff800" fill-rule="evenodd"/>
<path d="M342.8,54.3 367.6,54.1 374.1,54.8 380.1,55.9 385.1,57.7 389.3,60.3 392.3,63.8 393,65.3 393,66.8 391.6,68.5 385.7,72.8 383.1,75.7 376.6,87.3 370.1,96.5 352.1,123.4 344.6,135.4 337.9,144.4 325.7,161.9 322.2,167.9 314.3,183.4 311.8,189.4 311,193.4 297,193.4 297,55.3 310.5,57.3 314.5,57.6 326.5,55.9 342.8,54.3Z" fill="#ffdd00" fill-rule="evenodd"/>
<path d="M341.1,56.3 344.5,56 364.6,56.1 368.1,56.2 371.9,56.8 378.5,58.3 382.4,59.8 387.1,62.8 389.2,65.3 389.2,65.8 385.1,66.4 383.5,67.8 380.6,68.1 380.1,68.4 379.1,70.8 376.2,80.8 374.2,85.8 370.2,91.3 366.2,97.9 348.2,124.9 343,134 335.9,143.4 322.5,162.9 309.7,186.4 306.3,193.4 297,193.4 297,56.7 310.5,59.4 314.5,59.9 316.5,59.8 323.5,58.1 327,57.6 341.1,56.3Z" fill="#ffc100" fill-rule="evenodd"/>
<path d="M343.7,59.8 351.6,60 358.6,61.1 363.6,62.9 365.6,64 367.6,65.7 370.1,69.3 371.3,73.8 371.2,79.3 369.6,85.3 367.3,90.3 363.6,96.9 354.9,108.9 332,142.8 323,156.6 313,172.7 308.5,178.2 305,181.2 301,183.5 297,184.4 297,62.2 314.5,62.9 329,60.9 343.7,59.8Z" fill="#ffa500" fill-rule="evenodd"/>
<path d="M335.9,63.8 346.6,63.5 351.1,63.9 357.1,65.4 361.4,67.8 364.6,71.3 365.7,73.3 366.5,75.8 366.8,78.3 366.7,81.3 365.4,87.3 363.5,91.8 361.4,95.8 360.1,97.6 356.6,101.1 353.9,104.4 334.5,132.5 329,140.9 315.5,163.4 312.2,168.4 308.5,172.3 305,174.9 301,176.6 297,177.2 297,67.4 310,66.7 325.5,64.7 335.9,63.8Z" fill="#ff8a00" fill-rule="evenodd"/>
<path d="M345.6,67.3 348.6,67.2 357.1,69.8 360.1,72.9 362.5,76.3 362.8,79.3 362.7,85.3 359.6,93.8 358.6,95.4 355.6,97.1 352.6,100.4 343.2,113.9 331.9,129.4 326.5,137.9 314.3,159.9 310.5,165.9 307.5,169 304.5,170.8 301,172 297,172.4 297,73 308,71.2 318,69 325.5,67.9 332.5,67.4 345.6,67.3Z" fill="#ff6e00" fill-rule="evenodd"/>
<path d="M328.4,71.3 334,70.9 339.5,71.4 345.3,72.8 349.6,75 352.6,77.8 354.5,81.3 355.1,85.3 354.4,89.3 352.3,93.8 342.4,109.4 331,123.9 326,131.2 322,138.3 312.3,157.9 308.7,163.9 306.5,166.4 304,167.9 301.5,168.4 297,168.5 297,76.5 304,75.7 328.4,71.3Z" fill="#ff5300" fill-rule="evenodd"/>
<path d="M330.4,74.3 334,74 337.5,74.8 342.9,76.8 346.9,79.3 349.1,81.6 350.1,83.8 350.2,86.3 349.3,89.8 345.7,97.3 339.2,108.4 336,112.4 327.8,121.4 322.5,129.1 319,135.8 310.2,155.9 305.9,163.9 304.5,165.5 303,166 299,164.6 297,164.3 297,80.2 306,79.3 315,77.2 322,76.3 330.4,74.3Z" fill="#ff3700" fill-rule="evenodd"/>
<path d="M331.9,77.3 333.5,77.1 336.4,78.3 342.6,81.8 346.1,84.3 346.4,84.8 346,86.2 342.5,94.9 337.5,104.4 335,108.3 333.8,109.9 325.3,116.9 323.2,119.4 320,124.4 316.2,131.4 311,145.9 306.5,155.4 306,155.9 305.5,155.9 301.5,154.8 297,154.4 297,84.5 305,83.9 309,83.3 316,80.5 317,80.7 319,81.9 320,81.9 331.9,77.3Z" fill="#ff1c00" fill-rule="evenodd"/>
<path d="M321.9,85.3 323.5,85 325,85.2 326.9,86.3 328.3,87.8 329.3,89.3 329.9,91.3 329.8,92.8 329.3,94.3 327.5,97.1 324.5,100.2 321,102.9 314.5,106.5 312.5,108.4 310.8,110.9 309,114.8 307.5,119.8 306.3,125.9 304.6,136.9 303.7,139.9 302.5,140.3 299,138.6 297,138.2 297,94.2 302.5,92.9 306.5,93 308.5,92.7 310.5,91.6 313.4,88.8 315,87.7 321.9,85.3Z" fill="#ff0000" fill-rule="evenodd"/>
<path d="M304.5,1.8 304.8,4.8 305.6,9.8 306.8,13.8 307.5,14.8 309,15.8 310.5,16.2 312.5,16.3 317,15.9 324.4,14.8 328.9,13.8 329.8,13.3 329.9,11.8 329.1,1.8M495.2,41.2 493.7,40.9 491.7,42.3 483.7,50.4 474.2,60.7 462.7,72.5 458.2,77.8 455.7,81.4 453.2,85.5 449.9,91.8 447.2,95.8 444.8,97.9 436.1,103.9 434.2,105.4 432.1,107.5 428.1,112.8 423.1,120.6 413.6,131.4 406.6,141.2 404.4,143.9 399.3,149.4 397.1,151.4 393.6,155.4 379.6,172.4 370.1,185.2 366.1,190.9 364.6,193.4M297,29.2 299.5,29.1 319,26.8 354.1,22.2 359.1,21.4 388.6,17.9 407.6,17.7 412.1,18.2 429.6,18.2 438.1,19.3 444.1,20.3 449.7,22.1 452.7,23.3 455.2,24.7 457.3,26.3 462.2,30.8 463.7,32.5 464.1,33.3 463.2,36.9 461.2,42.5 458.6,47.8 454.3,55.3 450.8,60.8 430.5,89.3 425.2,95.8 417.6,101.4 414.2,104.9 386.6,138.1 370.4,156.9 364,165.9 355.5,176.9 350,186.4 346.3,193.4M297,40.7 303.5,40.2 305,39.9 321.5,38.2 328,37.3 331,37.2 359.1,33.4 399.6,28.4 414.1,28.4 417.1,28.8 423.6,29.1 430.6,30.8 437.2,32.8 438.1,33.3 438.6,34.1 439.3,37.8 439.4,42.3 438.5,50.3 437.9,52.8 437.4,54.8 436.4,56.8 431.9,64.3 430.1,66.6 421.1,76.7 399.6,99.7 392.8,107.9 388.2,113.9 379.9,125.9 371.7,136.9 363.6,148.4 355.7,158.4 347.9,168.9 343,174.8 339.2,179.9 333,188.4 329.9,193.4M297,49.8 300,49.7 308,48.9 312,48.8 320,47.9 324,47.8 326,47.4 330.5,47.2 332.5,46.9 337,46.7 339,46.4 344.5,46.3 347.1,45.9 351.6,45.8 354.1,45.4 359.1,45.3 361.6,44.9 365.6,44.7 367.1,44.4 380.1,43.3 385.6,42.4 395.6,40.2 399.1,39.7 402.1,39.7 405.3,40.3 409.3,41.8 412.4,43.3 414.8,44.8 420.2,49.3 422.6,52.8 423.8,55.3 423.9,55.8 423.1,57.6 416.6,67.5 407.1,79.2 403,82.8 397.6,87.2 387.2,97.3 380.4,102.9 376.4,107.4 372.1,112.8 364.9,124.4 345.9,150.4 336.9,161.9 332.1,169.4 330.2,172.9 327.8,178.4 323.1,189.9 321.9,193.4M297,56.7 310.5,59.4 314.5,59.9 316.5,59.8 323.5,58.1 327,57.6 342.5,56.1 368.1,56.2 376.5,57.8 381.4,59.3 385.1,61.3 387.1,62.8 389.2,65.3 389.2,65.8 388.1,66.2 386.6,66.1 385.1,66.4 383.5,67.8 380.6,68.1 380.1,68.4 379.1,70.8 376.2,80.8 374.2,85.8 370.2,91.3 366.2,97.9 348.2,124.9 343,134 335.9,143.4 331,150.7 325.8,157.9 322.5,162.9 309.7,186.4 306.3,193.4M297,84.5 305,83.9 309,83.3 316,80.5 317,80.7 319,81.9 320,81.9 330.5,77.8 333.5,77.1 336.4,78.3 342.6,81.8 346.1,84.3 346.4,84.8 342.5,94.9 336,106.9 333.8,109.9 325.3,116.9 322.1,120.9 318.2,127.4 315.8,132.4 311,145.9 306.5,155.4 306,155.9 305.5,155.9 301.5,154.8 297,154.4" fill="none" stroke="#3c3c28" stroke-opacity=".6" stroke-width=".5"/>
</g>
<path d="M373.3,64.6L375.2,74L376,80L377,73L379.6,67.8" fill="none" stroke="#5a5020" stroke-opacity=".6" stroke-width=".5"/>
<rect x="309.0" y="13.8" width="174.2" height="167.6" fill="none" stroke="#333" stroke-width=".7"/>
<path d="M309.0,13.8V181.4H483.2" fill="none" stroke="#111" stroke-width=".75"/>
<path d="M309,181.4v1.7M320.6,181.4v3.1M332.2,181.4v1.7M343.8,181.4v3.1M355.5,181.4v1.7M367.1,181.4v3.1M378.7,181.4v1.7M390.3,181.4v3.1M401.9,181.4v1.7M413.5,181.4v3.1M425.1,181.4v1.7M436.7,181.4v3.1M448.4,181.4v1.7M460,181.4v3.1M471.6,181.4v1.7M483.2,181.4v3.1M309.0,181.4h-3.1M309.0,169.4h-1.7M309.0,157.5h-3.1M309.0,145.5h-1.7M309.0,133.5h-3.1M309.0,121.5h-1.7M309.0,109.6h-3.1M309.0,97.6h-1.7M309.0,85.6h-3.1M309.0,73.7h-1.7M309.0,61.7h-3.1M309.0,49.7h-1.7M309.0,37.7h-3.1M309.0,25.8h-1.7M309.0,13.8h-3.1" stroke="#111" stroke-width=".65" fill="none"/>
<g font-family="'Liberation Serif',serif" font-size="7.2" fill="#333">
<text x="320.6" y="193.0" text-anchor="middle">40</text>
<text x="343.8" y="193.0" text-anchor="middle">60</text>
<text x="367.1" y="193.0" text-anchor="middle">80</text>
<text x="390.3" y="193.0" text-anchor="middle">100</text>
<text x="413.5" y="193.0" text-anchor="middle">120</text>
<text x="436.7" y="193.0" text-anchor="middle">140</text>
<text x="460" y="193.0" text-anchor="middle">160</text>
<text x="483.2" y="193.0" text-anchor="middle">180</text>
<text x="303.8" y="184.4" text-anchor="end">−5</text>
<text x="303.8" y="160.4" text-anchor="end">0</text>
<text x="303.8" y="136.5" text-anchor="end">5</text>
<text x="303.8" y="112.5" text-anchor="end">10</text>
<text x="303.8" y="88.6" text-anchor="end">15</text>
<text x="303.8" y="64.7" text-anchor="end">20</text>
<text x="303.8" y="40.7" text-anchor="end">25</text>
<text x="303.8" y="16.8" text-anchor="end">30</text>
</g>
<text transform="translate(292.3,97.3) rotate(-90)" text-anchor="middle" font-family="'Liberation Sans',sans-serif" font-size="8.8" fill="#222" textLength="50.3" lengthAdjust="spacingAndGlyphs">Power (dBm)</text>
<text x="395.7" y="205.1" text-anchor="middle" font-family="'Liberation Sans',sans-serif" font-size="8.6" fill="#222" textLength="63.5" lengthAdjust="spacingAndGlyphs">SMF Length(km)</text>
<text x="415.0" y="221.7" text-anchor="middle" font-family="'Liberation Serif',serif" font-size="13" fill="#111">(<tspan font-weight="bold">b</tspan>)</text>
<rect x="511.5" y="15.50" width="14.0" height="163.60" fill="#ff0000"/>
<rect x="511.5" y="19.81" width="14.0" height="159.29" fill="#ff1c00"/>
<rect x="511.5" y="24.11" width="14.0" height="154.99" fill="#ff3700"/>
<rect x="511.5" y="28.42" width="14.0" height="150.68" fill="#ff5300"/>
<rect x="511.5" y="32.72" width="14.0" height="146.38" fill="#ff6e00"/>
<rect x="511.5" y="37.03" width="14.0" height="142.07" fill="#ff8a00"/>
<rect x="511.5" y="41.33" width="14.0" height="137.77" fill="#ffa500"/>
<rect x="511.5" y="45.64" width="14.0" height="133.46" fill="#ffc100"/>
<rect x="511.5" y="49.94" width="14.0" height="129.16" fill="#ffdd00"/>
<rect x="511.5" y="54.25" width="14.0" height="124.85" fill="#fff800"/>
<rect x="511.5" y="58.55" width="14.0" height="120.55" fill="#eaff00"/>
<rect x="511.5" y="62.86" width="14.0" height="116.24" fill="#cfff00"/>
<rect x="511.5" y="67.16" width="14.0" height="111.94" fill="#b3ff00"/>
<rect x="511.5" y="71.47" width="14.0" height="107.63" fill="#98ff00"/>
<rect x="511.5" y="75.77" width="14.0" height="103.33" fill="#7cff00"/>
<rect x="511.5" y="80.08" width="14.0" height="99.02" fill="#60ff00"/>
<rect x="511.5" y="84.38" width="14.0" height="94.72" fill="#45ff00"/>
<rect x="511.5" y="88.69" width="14.0" height="90.41" fill="#29ff00"/>
<rect x="511.5" y="92.99" width="14.0" height="86.11" fill="#0eff00"/>
<rect x="511.5" y="97.30" width="14.0" height="81.80" fill="#00ff0e"/>
<rect x="511.5" y="101.61" width="14.0" height="77.49" fill="#00ff29"/>
<rect x="511.5" y="105.91" width="14.0" height="73.19" fill="#00ff45"/>
<rect x="511.5" y="110.22" width="14.0" height="68.88" fill="#00ff60"/>
<rect x="511.5" y="114.52" width="14.0" height="64.58" fill="#00ff7c"/>
<rect x="511.5" y="118.83" width="14.0" height="60.27" fill="#00ff98"/>
<rect x="511.5" y="123.13" width="14.0" height="55.97" fill="#00ffb3"/>
<rect x="511.5" y="127.44" width="14.0" height="51.66" fill="#00ffcf"/>
<rect x="511.5" y="131.74" width="14.0" height="47.36" fill="#00ffea"/>
<rect x="511.5" y="136.05" width="14.0" height="43.05" fill="#00f8ff"/>
<rect x="511.5" y="140.35" width="14.0" height="38.75" fill="#00ddff"/>
<rect x="511.5" y="144.66" width="14.0" height="34.44" fill="#00c1ff"/>
<rect x="511.5" y="148.96" width="14.0" height="30.14" fill="#00a5ff"/>
<rect x="511.5" y="153.27" width="14.0" height="25.83" fill="#008aff"/>
<rect x="511.5" y="157.57" width="14.0" height="21.53" fill="#006eff"/>
<rect x="511.5" y="161.88" width="14.0" height="17.22" fill="#0053ff"/>
<rect x="511.5" y="166.18" width="14.0" height="12.92" fill="#0037ff"/>
<rect x="511.5" y="170.49" width="14.0" height="8.61" fill="#001cff"/>
<rect x="511.5" y="174.79" width="14.0" height="4.31" fill="#0000ff"/>
<rect x="511.5" y="15.5" width="14.0" height="163.6" fill="none" stroke="#444" stroke-width=".5"/>
<g font-family="'Liberation Sans',sans-serif" font-size="5.6" fill="#222">
<text x="530.8" y="181.1" textLength="14.0" lengthAdjust="spacingAndGlyphs">0.000</text>
<text x="530.8" y="155.3" textLength="14.0" lengthAdjust="spacingAndGlyphs">3.000</text>
<text x="530.8" y="129.5" textLength="14.0" lengthAdjust="spacingAndGlyphs">6.000</text>
<text x="530.8" y="103.6" textLength="14.0" lengthAdjust="spacingAndGlyphs">9.000</text>
<text x="530.8" y="77.8" textLength="14.0" lengthAdjust="spacingAndGlyphs">12.00</text>
<text x="530.8" y="52" textLength="14.0" lengthAdjust="spacingAndGlyphs">15.00</text>
<text x="530.8" y="26.1" textLength="14.0" lengthAdjust="spacingAndGlyphs">18.00</text>
</g>
<path d="M525.5,179.1h2.2M525.5,153.3h2.2M525.5,127.4h2.2M525.5,101.6h2.2M525.5,75.8h2.2M525.5,49.9h2.2M525.5,24.1h2.2" stroke="#333" stroke-width=".6" fill="none"/>
<text x="519.0" y="10.4" text-anchor="middle" font-family="'Liberation Sans',sans-serif" font-size="8.8" fill="#222" textLength="23.3" lengthAdjust="spacingAndGlyphs">Q(dB)</text>
</g>
<g id="plot-c">
<clipPath id="cpc"><rect x="26.6" y="237.6" width="178.5" height="168.8"/></clipPath>
<g clip-path="url(#cpc)" shape-rendering="geometricPrecision">
<rect x="26.6" y="237.6" width="178.5" height="168.8" fill="#0000ff"/>
<path d="M14.6,225.6 217.1,225.6 217.1,318.4 215.1,317.7 213.6,318.6 204.9,327.5 195.5,336.5 187.1,346.6 168.6,372.9 156.1,391.7 150.1,406.4 145.6,415.2 144.3,418.4 14.6,418.4 14.6,225.6Z" fill="#001aff" fill-rule="evenodd"/>
<path d="M14.6,225.6 217.1,225.6 217.1,300 216.1,300 214.1,301.5 204.1,311.1 199.1,315.5 189.6,325.6 176.7,340.5 166.2,349 163.6,351.6 149.2,372.4 142.1,381.5 135.1,391.9 128.7,406.4 124.1,415.2 122.8,418.4 14.6,418.4 14.6,225.6Z" fill="#0034ff" fill-rule="evenodd"/>
<path d="M14.6,225.6 217.1,225.6 217.1,294.5 214.6,294.8 212,295.5 205.6,298.6 204.2,301 201.8,304 191.6,315 176.9,332 172.1,337 162.6,346 159,350 134.7,381.9 128.5,390.9 123.9,399.4 119.9,407.9 117.9,413.9 117.3,418.4 14.6,418.4 14.6,225.6Z" fill="#004eff" fill-rule="evenodd"/>
<path d="M14.6,225.6 217.1,225.6 217.1,288 209.1,288.9 205.6,289.8 204.6,290.5 197.1,300 186.1,312.8 174.5,327 160.1,341.8 155.6,347 138.6,368.3 125.8,383.9 119.7,392.4 115.7,399.4 112.6,406.4 110.9,412.4 110.2,418.4 14.6,418.4 14.6,225.6Z" fill="#0069ff" fill-rule="evenodd"/>
<path d="M14.6,225.6 217.1,225.6 217.1,279.7 213.1,280 206.1,281.2 204.6,282.1 200.1,287.8 182.6,308 170.2,324.5 156.1,338.9 131.1,369.2 116.1,384.9 110,393.4 104.9,402.9 101.9,410.9 101.1,414.9 100.8,418.4 14.6,418.4 14.6,225.6ZM31.1,233.5 28.6,234.3 26.6,235.9 26,237.1 26,237.6 26.6,238.3 28.6,238.6 31.6,238.5 36.9,237.6 37.6,237.1 36.6,235.6 34.6,234.1 33.1,233.6 31.1,233.5Z" fill="#0083ff" fill-rule="evenodd"/>
<path d="M14.6,225.6 21.3,225.6 22,230.1 24.2,237.6 25.1,238.7 26.4,239.6 30.1,240.1 35.1,239.8 43.6,238.6 48.8,237.6 49.8,237.1 49,225.6 217.1,225.6 217.1,265 215.6,264.7 214.6,265.2 206.6,273.2 205.1,274.3 201.1,279.2 184.1,297 175.5,307.5 167.1,321 164.9,323.5 158.1,329.5 151.6,336 143.1,347.7 134.1,357.4 124.6,368.8 112.2,377.9 108.1,381.7 103.1,388.5 86.1,413.8 83.5,418.4 14.6,418.4 14.6,225.6Z" fill="#009dff" fill-rule="evenodd"/>
<path d="M62.5,225.6 217.1,225.6 217.1,258.3 214.1,258.8 211.6,259.9 208.6,262 205.1,265.1 196,278 181.6,295.2 175,303.5 166.3,316.5 163.6,320 150.1,333.7 140.8,345.5 123.6,365 119.9,368.5 110.1,376.4 105,381.4 100.2,387.9 85.1,409.9 82.1,415 81.1,418.4 14.6,418.4 14.6,235.7 16.6,236 18.6,236.8 25.1,240.9 27.1,241.5 29.6,241.8 38.1,241.2 59.2,238.1 61.4,237.6 62.4,237.1 62.5,236.6 62.5,225.6Z" fill="#00b7ff" fill-rule="evenodd"/>
<path d="M75.8,225.6 217.1,225.6 217.1,248.5 213.6,248.9 210.6,249.9 207.6,251.5 205.6,253.3 195.4,271.1 191.2,277.5 172.6,302.3 163,316 158.8,321 147.8,332.5 137.9,344.5 122.4,362 117.9,366.5 107.6,375.6 102.1,381.4 94.8,391.4 82.9,408.4 80,413.9 79.2,416.4 79,418.4 14.6,418.4 14.6,240.4 18.1,240.9 26.6,243.3 32.6,243.5 40.1,242.8 56.1,240.5 73.9,237.6 74.8,237.1 75,236.6 75.8,225.6Z" fill="#00d1ff" fill-rule="evenodd"/>
<path d="M91.2,225.6 205.6,225.6 204.7,230.6 199.6,243.2 196.3,256.1 194,263.1 190,271.6 184,281.5 178.2,290 160.9,314 156.4,319.5 144.8,332 120.6,359.6 115.5,365 105.1,374.7 99.6,380.9 85.8,399.4 80.3,407.4 77.4,413.4 76.7,415.9 76.4,418.4 14.6,418.4 14.6,244 27.1,245.4 34.6,245.2 62.1,241.6 89.2,237.6 90.4,237.1 90.6,236.6 91.2,225.6Z" fill="#00ebff" fill-rule="evenodd"/>
<path d="M110.1,225.6 181.7,225.6 182.2,230.6 183.8,236.6 184.2,237.6 186.6,240.6 188.1,243.6 189.5,248.1 190.2,252.6 190.2,257.1 189.4,261.6 187.9,266.1 185.4,271.6 180.3,281 175.4,289 161.2,309 155.9,316 140.4,333 117.4,359 101.6,374.9 94.9,382.9 81.7,400.4 77.3,406.9 74.3,412.9 73.4,415.9 73.2,418.4 14.6,418.4 14.6,247.1 27.6,247.4 36.1,246.9 98.6,238.9 106.8,237.6 107.8,237.1 108.3,236.1 109.7,230.1 110.1,225.6Z" fill="#00fff8" fill-rule="evenodd"/>
<path d="M123.8,239.1 149.6,238.6 160.1,239.7 167.6,241 172.6,242.4 176.6,244.4 180,247.1 182.6,250.2 184.6,253.8 185.5,257.1 185.5,260.1 184.4,264.1 182.3,269.1 177.3,279.5 173.3,287 160.6,305.2 151.6,317 136.6,333 111,362 99.6,373.4 95.3,378.4 79,399.4 74.3,405.9 70.4,412.9 69.4,415.9 69.1,418.4 14.6,418.4 14.6,250.2 33.6,249.1 78.1,243.6 114.6,239.5 123.8,239.1Z" fill="#00ffde" fill-rule="evenodd"/>
<path d="M116.7,242.1 133.1,242 154.1,243.6 159.6,244.7 168.1,247.2 171.6,248.9 175.2,251.6 181.6,257.5 182,258.6 181.1,261.5 175.5,275 170.3,286.5 150.3,314.5 145.5,320 133.2,332.5 127.6,339.1 118.6,348.8 108.6,360.7 95.3,374.4 83.5,389.4 73.6,401.4 65.1,412.9 61.5,418.4 14.6,418.4 14.6,253.4 78.6,245.6 116.7,242.1Z" fill="#00ffc4" fill-rule="evenodd"/>
<path d="M119,244.1 132.6,244.2 141.1,244.8 152.1,246.3 156.6,247.5 160.7,249.1 164.4,251.1 167.7,253.6 170.3,256.6 171.9,259.6 172.8,262.6 173,266.1 172.3,271.1 170.7,277 168.6,282.5 166,287.5 156.1,302.3 147.3,314 121.6,341.9 107.3,358.5 93.1,374 67,406.4 61.6,414.1 60.1,416.8 59.6,418.4 14.6,418.4 14.6,255.3 79.6,247.4 101.1,245.4 119,244.1Z" fill="#00ffaa" fill-rule="evenodd"/>
<path d="M117.5,246.1 132.1,246.2 140.6,246.9 147.6,247.9 152.3,249.1 156.3,250.6 159.8,252.6 162.9,255.1 165.3,258.1 167.1,261.6 168.1,265.1 168.3,269.1 167.8,274 166.6,279 164.7,284 162,289 153.7,301.5 144.6,313.6 115.6,345.2 105.7,357 92.1,372.4 80.5,386.9 68.4,401.4 63.8,407.4 60.4,412.4 58.7,415.9 58.1,418.4 14.6,418.4 14.6,257.1 22.1,256.5 52.1,252.4 80.1,249.1 100.1,247.1 117.5,246.1Z" fill="#00ff90" fill-rule="evenodd"/>
<path d="M114.4,248.1 129.6,248 143.6,249.4 148.6,250.5 152.6,251.8 156,253.6 158.5,255.6 161.1,258.6 163,262.1 164.2,266.1 164.7,270.6 164.3,275.5 163.3,280 161.5,284.5 159.1,289 151.5,300.5 142.4,312.5 136.7,319 121.6,335 114.1,343.4 91.6,370.1 79.1,385.7 64.7,402.9 60.6,408.4 58.1,412.4 56.8,415.4 56.2,418.4 14.6,418.4 14.6,259.1 22.1,258.5 51.1,254.4 81.6,250.6 99.1,248.8 114.4,248.1Z" fill="#00ff76" fill-rule="evenodd"/>
<path d="M108.6,250.1 126.6,249.8 139.6,250.8 144.1,251.5 148.1,252.6 151.6,253.9 154.6,255.6 157.1,258.1 159.2,261.6 160.7,265.6 161.5,270.1 161.5,274.5 160.9,278.5 159.7,282.5 157.4,287 150.4,298 140.3,311.5 134.2,318.5 119.3,334 112.6,341.5 91.1,367.7 78.1,384 62.1,402.9 58.3,407.9 55.8,411.9 54.4,415.4 53.9,418.4 14.6,418.4 14.6,261.2 21.6,260.6 50.6,256.2 80.6,252.4 98.1,250.6 108.6,250.1Z" fill="#00ff5c" fill-rule="evenodd"/>
<path d="M98.9,252.1 124.1,251.7 135.1,252.3 144.1,253.6 148.1,254.8 152.1,256.5 154.1,257.9 155.6,260.1 157.2,264.1 158.4,269.1 158.8,273.6 158.8,277 158,280.5 156.7,283.5 150,294.5 138.6,310 132.6,317 117,333 110,341 77.5,381.9 59.4,402.9 52.7,412.4 51.4,415.4 50.8,418.4 14.6,418.4 14.6,263.4 22.6,262.5 51.6,257.9 81.1,254 98.9,252.1Z" fill="#00ff41" fill-rule="evenodd"/>
<path d="M96.8,254.1 101.1,253.6 128.6,253.7 139.6,254.8 142.6,255.4 146.4,256.6 151.1,258.6 152.6,259.5 153.1,260.7 155.8,271.1 156.4,277 155.1,281.4 147.8,293.5 137.1,308.1 129,317.5 116.6,329.8 107.9,339.5 99,351.5 78.1,378 70.6,387.1 60.6,397.9 56.6,402.8 48.1,413.9 45.2,418.4 14.6,418.4 14.6,265.8 51.6,259.7 82.1,255.6 96.8,254.1Z" fill="#00ff27" fill-rule="evenodd"/>
<path d="M97.2,256.1 102.1,255.8 110.6,255.8 126.6,256.6 136.6,258.5 140.1,259.7 143.1,261.2 146.1,263.4 148.3,266.1 150.1,269.5 151.2,273.1 151.5,276.5 151.3,279.5 150.3,283 148.5,287 143.7,295 136.1,305.5 127.1,316 115.3,328 106.4,338 77.6,375.3 54.5,401.9 46.1,413.1 44.1,416.4 43.5,418.4 14.6,418.4 14.6,267.4 21.6,266.5 52.6,261.3 78.6,258 97.2,256.1Z" fill="#00ff0d" fill-rule="evenodd"/>
<path d="M98,258.1 111.6,258.1 124.1,259.1 133.1,261.1 136.6,262.5 139.6,264.1 142.2,266.1 144.6,268.7 146.3,271.6 147.5,275 147.9,278 147.6,281.5 146.5,285 144.9,288.5 140,296.5 132.7,306 125.4,314.5 112.8,327.5 106.6,334.5 100.6,342 83.6,364.9 73.1,377.5 52.6,400.8 47.6,407.4 44.3,412.4 42.6,415.9 42.1,418.4 14.6,418.4 14.6,268.8 20.1,268.2 43.1,264.3 56.1,262.5 79.6,259.7 98,258.1Z" fill="#0dff00" fill-rule="evenodd"/>
<path d="M99,260.1 111.6,260.3 122.1,261.4 130.6,263.6 134.1,265 137.1,266.7 139.6,268.7 141.9,271.1 143.6,273.8 144.7,276.5 145,279 144.8,282 143.9,285 142.3,288.5 137.3,296.5 129.8,306 121,316 109,328.5 101.4,337.5 95.7,345 86.4,358.5 82.6,363.4 72.1,375.7 56.1,393.3 50.5,399.9 46.1,405.9 42.6,411.4 40.8,415.4 40.3,418.4 14.6,418.4 14.6,270.3 20.6,269.7 44.6,265.7 63.1,263.3 84.6,261 99,260.1Z" fill="#27ff00" fill-rule="evenodd"/>
<path d="M100.7,262.1 112.6,262.6 121.6,263.7 129.1,266.1 135.6,269.5 138.1,271.4 140.1,273.6 141.7,276 142.6,278.5 142.8,280.5 142.5,282.5 139.8,288.5 135.3,295.5 127.7,305 117.2,317 107.6,326.7 98.6,337.5 93.1,344.9 85,357.5 82,361.5 70.1,375 55.2,390.9 48.6,398.7 44.2,404.9 40.5,410.9 38.8,414.9 38.1,418.4 14.6,418.4 14.6,272 20.1,271.4 42.1,267.6 64.1,264.8 90.1,262.5 100.7,262.1Z" fill="#41ff00" fill-rule="evenodd"/>
<path d="M87.6,264.6 100.1,264.1 110.1,264.5 119.1,265.6 125.1,267.3 133.1,271.1 136.4,273.6 139.1,276.2 140.6,278.4 141.1,280 140.8,281.5 139.8,284 135.9,291 131.6,296.9 115.3,316 106.1,325 95.6,337.8 91.1,344 83.6,356.5 81.1,360.1 75.4,366 69.1,373.2 55.6,387.2 46.3,397.9 42.8,402.9 38,410.9 36.2,414.9 35.4,418.4 14.6,418.4 14.6,273.7 19.1,273.2 38.1,269.7 46.1,268.6 68.1,266 87.6,264.6Z" fill="#5cff00" fill-rule="evenodd"/>
<path d="M86.8,266.6 91.6,266.1 104.1,266.2 114.6,267.3 121.1,268.5 127.8,271.6 131.5,273.6 134.4,275.5 138.6,279.5 138.7,280.5 138.1,282.1 134.1,289.4 130.1,295.1 113.6,314.7 110.7,317.5 105.6,321.9 90.6,340.5 79.9,359 74.6,363.9 65.6,373.8 53.1,386.4 43.9,396.9 35.3,410.4 31,418.4 14.6,418.4 14.6,275.7 42.1,270.7 68.6,267.6 86.8,266.6Z" fill="#76ff00" fill-rule="evenodd"/>
<path d="M84.6,268.6 95.1,268.4 104.1,269.1 113.5,271.1 117.1,272.4 120.1,273.9 123,276 125,278 126.3,280 127.4,282.5 127.9,285 127.8,287.5 127.2,290.5 126,293.5 122.8,299 117.4,306 111.6,313 104.1,320.6 90.7,337.5 86.9,343 80.6,353.7 77.6,358 50.1,386.1 41.8,395.4 30.8,411.4 28.8,415.4 28.1,418.4 14.6,418.4 14.6,276.9 27.6,275.1 42.6,272.4 55.6,270.8 69.6,269.3 84.6,268.6Z" fill="#90ff00" fill-rule="evenodd"/>
<path d="M81.2,270.6 93.6,270.6 101.6,271.4 109.1,273.2 115.4,276 118.1,278 120.1,280 121.5,282 122.6,284.5 123.1,287 123.2,289.5 122.7,292 121.7,295 119.5,299 115.8,304 110.1,311 102.6,319.5 89.4,336.5 79.1,352.4 75.7,357 65.6,367.7 47.4,385.4 38.2,395.9 27.6,409.9 25.2,414.4 24.3,418.4 14.6,418.4 14.6,277.9 28.6,276.7 43.1,274.1 57.6,272.1 69.6,271 81.2,270.6Z" fill="#aaff00" fill-rule="evenodd"/>
<path d="M72.5,272.6 84.6,272.4 96.1,273 103.1,274.3 109.3,276.5 112.1,278.1 114.8,280 116.8,282 118.5,284.5 119.5,287 119.9,289.5 119.7,292 119,294.5 117.4,297.5 114.6,301.5 101.1,318.3 87.8,336 77.7,351 73.9,356 64.6,365.8 48.5,380.9 41.2,388.4 29.6,402.1 26,405.9 18.1,415.9 16.9,418.4 14.6,418.4 14.6,278.9 29.6,278.3 43.6,275.7 54.1,274.2 72.5,272.6Z" fill="#c4ff00" fill-rule="evenodd"/>
<path d="M65.8,274.5 78.6,274.1 89.1,274.6 97.6,275.5 103.6,277 107.1,278.5 110.1,280.3 113.1,282.5 115.1,284.7 116.6,287 117.3,289 117.5,291 116.9,293.5 114.1,298.2 100.6,315.6 85.4,336.5 76.1,349.9 71.3,356 62.1,365.5 42.4,383.4 22.1,405.7 18.1,408.7 14.6,409.6 14.6,280 25.6,280.3 30.6,280.1 49.1,276.5 57.6,275.3 65.8,274.5Z" fill="#deff00" fill-rule="evenodd"/>
<path d="M66.7,276 81.6,275.9 94.6,277.1 100.6,278.4 106.4,281 109.6,283.2 112.4,285.5 114.6,288 115.5,289.5 115.7,291 115.4,292.5 102.6,309.2 92.2,324.5 75.1,348.2 70.1,354.5 65.6,359.4 60.1,364.6 41.1,381.1 20.6,403 17.6,405.2 14.6,406 14.6,281 27.1,282.1 31.1,282.1 46.6,278.6 58.1,276.7 66.7,276Z" fill="#f8ff00" fill-rule="evenodd"/>
<path d="M71.6,277.5 81.1,277.6 94.1,279.1 99.6,280.3 104.6,282.8 109.9,286.5 113.6,290 113.9,291 113.8,291.5 108,298 104.1,303 98.6,310.9 90.2,324 72.6,348.1 64.6,357.5 58.1,363.4 43.7,374.9 38.6,379.4 18.1,400.7 17.1,401.3 14.6,400.7 14.6,282.4 31.1,284.5 34.1,283.9 42.1,281.3 55.6,278.8 59.1,278.2 71.6,277.5Z" fill="#ffeb00" fill-rule="evenodd"/>
<path d="M65.7,279.5 73.6,279.1 80.6,279.1 89.6,279.9 97.1,281.4 102.1,283.4 108.6,287.7 110.9,290 111.1,291 110.7,292 102.5,301.5 95.8,311 89.1,321.5 84.3,327.5 74.1,341.3 68.6,347.9 62.1,354.5 57.1,358.6 50.1,363.4 41.6,368.6 33.1,373.3 27.6,376 23.1,377.6 18.6,378.6 14.6,379 14.6,287.3 26.6,287.5 31.6,287.2 53.1,281.7 60.1,280.3 65.7,279.5Z" fill="#ffd100" fill-rule="evenodd"/>
<path d="M72.2,281 74.6,280.8 83.6,280.8 92.8,282 97.3,283.5 101.6,285.5 107.8,290 108.3,290.5 108.2,291 100.2,300.5 91.8,312.5 87.1,320.5 82.1,326 70.1,341.6 65.6,346.5 61.1,350.5 56.1,354.3 50.6,357.7 44.6,360.7 38.6,363.2 32.1,365.4 26.1,366.9 20.1,367.8 14.6,368.2 14.6,292.1 22.6,291.7 30.1,290.7 61.6,282.2 66.1,281.3 72.2,281Z" fill="#ffb700" fill-rule="evenodd"/>
<path d="M74.6,284.5 77.1,284.3 81.1,284.7 85.1,285.3 86.6,286 90.6,289.5 91.6,293 92,296.5 90,305 82.8,321 80.1,324.1 72.1,335 66.6,341.2 60.6,346.7 54.6,350.8 48.1,354.1 41.1,356.6 33.6,358.2 25.6,359 14.6,359.2 14.6,297.2 19.6,296.8 25.6,295.6 33.1,293.4 44.1,289.6 54.6,287 67.1,285.1 74.6,284.5Z" fill="#ff9d00" fill-rule="evenodd"/>
<path d="M66.4,288.5 71.1,288.3 74.6,288.5 78.1,289.2 81.1,290.4 83.6,292.1 85.6,294.3 86.9,297 87.4,299.5 87.2,302 86.4,305 80.4,317.5 75.4,326 69.5,334 64.1,339.8 58.1,344.7 52.1,348.2 45.6,350.7 40.1,351.9 34.1,352.3 14.6,350.5 14.6,303.3 18.1,302.9 22.1,301.7 43.4,292.5 50.1,290.3 55.1,289.3 66.4,288.5Z" fill="#ff8300" fill-rule="evenodd"/>
<path d="M52.6,291.5 55.1,291.2 63.1,292 70.1,291.3 73.1,291.7 76.9,293 80.4,295 83.1,297.4 84.4,299.5 84.6,302 83.4,305 77.5,315.5 73.9,323.5 68.6,331.1 63.1,337.1 56.6,342.2 50.1,345.4 46.1,346.7 42.1,347.5 36.6,347.6 31.2,346.5 25.9,344 18.1,339.1 16.1,338.3 14.6,338.1 14.6,313.8 16.6,313.3 18.6,312.2 27.8,304.5 32.1,301.5 37.6,298.8 44.6,294.7 52.6,291.5Z" fill="#ff6900" fill-rule="evenodd"/>
<path d="M52.9,293.5 54.1,293.2 55.1,293.3 63.6,296 69.6,294.3 71.1,294.2 74.6,296 81.1,300 81.9,301 81.6,302 72.5,316.5 72.1,318 72.4,320 70.7,323.5 67.6,328 62.4,334 56.1,338.9 49.8,342 41.6,343.6 39.1,343.5 34.2,342.5 33.1,341.7 30.1,338 28.6,334.6 27.8,332 27.3,325.5 28.7,313.5 29.4,310.5 33.1,305.5 34.6,304 37.1,303.9 45.1,297.3 52.9,293.5Z" fill="#ff4e00" fill-rule="evenodd"/>
<path d="M53.5,297.5 55.6,297.3 58.1,297.5 69.6,299.8 71.1,300.6 72.3,302 73,304 73,306 72.1,309.5 67.8,320 66.6,322.2 64.6,324.6 61.1,327.9 57.6,330.1 53.6,331.2 49.6,331.3 46.6,330.6 44.1,329.6 41.6,328 39.6,325.9 38,323.5 36.8,320.5 36.3,317.5 36.4,314.5 36.9,312 37.7,310 39,308 40.9,306 47.7,300 50.6,298.4 53.5,297.5Z" fill="#ff3400" fill-rule="evenodd"/>
<path d="M55.3,300.5 58.1,300.3 62.1,301.3 68.7,303.5 69.1,304.5 67.9,310.5 64.6,318.6 63.6,319.9 61,322 56.6,325.2 55.6,325.6 51.4,324.5 46.8,322.5 42.4,318 42.1,317.4 42,315 42.1,311 42.5,310 50.6,302 55.3,300.5Z" fill="#ff1a00" fill-rule="evenodd"/>
<path d="M56.8,305.5 59.1,305.1 60.7,305.5 61.9,307.5 62.3,310 62,311.5 60.6,313 58.6,314 56.6,314.4 55.3,314 54.3,313 53.6,311.5 53.4,309.5 53.7,308 54.3,307 56.8,305.5Z" fill="#ff0000" fill-rule="evenodd"/>
<path d="M21.3,225.6 22,230.1 23.4,235.6 24.2,237.6 25.1,238.7 26.4,239.6 28.1,240 30.1,240.1 35.1,239.8 43.6,238.6 48.8,237.6 49.8,237.1 49.9,236.6 49,225.6M217.1,265 215.6,264.7 214.6,265.2 206.6,273.2 205.1,274.3 201.1,279.2 192.6,288.3 184.1,297 175.5,307.5 173.5,310.5 168.9,318.5 167.1,321 164.9,323.5 158.1,329.5 151.6,336 147.1,342.5 143.1,347.7 134.1,357.4 128.4,364.5 124.6,368.8 121.1,371.6 116.1,374.9 112.2,377.9 108.1,381.7 103.1,388.5 86.1,413.8 84.1,417 83.5,418.4M14.6,253.4 52.1,248.6 83.6,245.1 93.1,244.4 94.6,244.1 98.6,243.9 100.1,243.6 104.1,243.4 105.6,243.1 109.6,242.9 117.1,242.1 132.6,242 135.6,242.4 141.1,242.5 143.6,242.9 153.6,243.6 159.6,244.7 166.6,246.7 169.6,247.9 172.1,249.2 178.2,254.1 181.7,257.6 182,258.1 182,258.6 181.6,260.1 179.6,265.3 172.5,282 170.6,286 164.8,294.5 152.1,312.1 145.5,320 135.1,330.5 127.6,339.1 120.2,347 108.6,360.7 95.3,374.4 83.5,389.4 73.6,401.4 65.1,412.9 61.5,418.4M14.6,265.8 51.6,259.7 94.6,254.2 100.6,253.6 127.6,253.7 139.6,254.8 142.6,255.4 146.4,256.6 152.1,259 152.6,259.5 153.1,260.7 155.3,268.6 156.4,276 156.3,277.5 155.5,280.5 153.1,285 148.8,292 141,303 137.1,308.1 131.6,314.7 128.6,318 116.6,329.8 107.9,339.5 99,351.5 94.1,357.4 78.1,378 70.6,387.1 65.5,392.9 60.6,397.9 56.6,402.8 48.1,413.9 45.7,417.4 45.2,418.4M14.6,275.7 42.1,270.7 68.6,267.6 72.6,267.5 75.1,267.1 80.6,267 83.1,266.6 88.6,266.5 91.1,266.1 103.6,266.2 114.6,267.3 118.6,267.9 121.2,268.6 125.8,270.6 131.5,273.6 134.4,275.5 136.7,277.5 138.6,279.5 138.8,280 138.1,282.1 135.6,286.9 133.1,291 130.1,295 113.6,314.7 110.7,317.5 107.5,320 105.6,321.9 90.6,340.5 79.9,359 78.1,360.8 74.6,363.9 65.6,373.8 53.1,386.4 43.9,396.9 35.3,410.4 32.4,415.4 31,418.4M14.6,282.4 26.6,284.1 31.1,284.5 34.1,283.9 42.1,281.3 59.1,278.2 64.6,278 67.6,277.6 81.1,277.6 94.1,279.1 97.6,279.7 100.6,280.7 104.6,282.8 109.1,285.9 113.2,289.5 113.9,290.5 113.9,291 113.5,292 108.1,297.9 104.1,303 98.6,310.9 90.2,324 74.1,346.1 69.1,352.5 64.1,358 58.1,363.4 43.7,374.9 38.6,379.4 32.2,385.9 25.1,393.7 18.1,400.7 17.1,401.3 14.6,400.7M52.9,293.5 54.1,293.2 55.1,293.3 63.6,296 69.6,294.3 71.1,294.2 74.6,296 81.1,300 81.9,301 81.6,302 76.4,310 72.5,316.5 72.1,318 72.4,320 70.7,323.5 67.6,328 62.4,334 56.1,338.9 49.8,342 41.6,343.6 39.1,343.5 34.2,342.5 33.1,341.7 30.1,338 28.6,334.6 27.8,332 27.3,328 27.3,325.5 28.7,313.5 29.4,310.5 33.1,305.5 34.6,304 37.1,303.9 45.1,297.3 52.9,293.5" fill="none" stroke="#3c3c28" stroke-opacity=".6" stroke-width=".5"/>
</g>
<rect x="26.6" y="237.6" width="178.5" height="168.8" fill="none" stroke="#333" stroke-width=".7"/>
<path d="M26.6,237.6V406.4H205.1" fill="none" stroke="#111" stroke-width=".75"/>
<path d="M26.6,406.4v1.7M38.5,406.4v3.1M50.4,406.4v1.7M62.3,406.4v3.1M74.2,406.4v1.7M86.1,406.4v3.1M98,406.4v1.7M109.9,406.4v3.1M121.8,406.4v1.7M133.7,406.4v3.1M145.6,406.4v1.7M157.5,406.4v3.1M169.4,406.4v1.7M181.3,406.4v3.1M193.2,406.4v1.7M205.1,406.4v3.1M26.6,406.4h-3.1M26.6,394.3h-1.7M26.6,382.3h-3.1M26.6,370.2h-1.7M26.6,358.2h-3.1M26.6,346.1h-1.7M26.6,334.1h-3.1M26.6,322h-1.7M26.6,309.9h-3.1M26.6,297.9h-1.7M26.6,285.8h-3.1M26.6,273.8h-1.7M26.6,261.7h-3.1M26.6,249.7h-1.7M26.6,237.6h-3.1" stroke="#111" stroke-width=".65" fill="none"/>
<g font-family="'Liberation Serif',serif" font-size="7.3" fill="#333">
<text x="38.5" y="417.9" text-anchor="middle">40</text>
<text x="62.3" y="417.9" text-anchor="middle">60</text>
<text x="86.1" y="417.9" text-anchor="middle">80</text>
<text x="109.9" y="417.9" text-anchor="middle">100</text>
<text x="133.7" y="417.9" text-anchor="middle">120</text>
<text x="157.5" y="417.9" text-anchor="middle">140</text>
<text x="181.3" y="417.9" text-anchor="middle">160</text>
<text x="205.1" y="417.9" text-anchor="middle">180</text>
<text x="21.2" y="409.4" text-anchor="end">−5</text>
<text x="21.2" y="385.3" text-anchor="end">0</text>
<text x="21.2" y="361.2" text-anchor="end">5</text>
<text x="21.2" y="337.1" text-anchor="end">10</text>
<text x="21.2" y="313" text-anchor="end">15</text>
<text x="21.2" y="288.8" text-anchor="end">20</text>
<text x="21.2" y="264.7" text-anchor="end">25</text>
<text x="21.2" y="240.6" text-anchor="end">30</text>
</g>
<text transform="translate(8.9,322.8) rotate(-90)" text-anchor="middle" font-family="'Liberation Sans',sans-serif" font-size="8.6" fill="#222" textLength="56.1" lengthAdjust="spacingAndGlyphs">Power (dBmm)</text>
<text x="115.8" y="430.5" text-anchor="middle" font-family="'Liberation Sans',sans-serif" font-size="8.6" fill="#222" textLength="65.2" lengthAdjust="spacingAndGlyphs">SMF Length(km)</text>
<text x="136.3" y="445.7" text-anchor="middle" font-family="'Liberation Serif',serif" font-size="13" fill="#111">(<tspan font-weight="bold">c</tspan>)</text>
<rect x="234.1" y="239.40" width="14.2" height="164.70" fill="#ff0000"/>
<rect x="234.1" y="243.52" width="14.2" height="160.58" fill="#ff1a00"/>
<rect x="234.1" y="247.63" width="14.2" height="156.47" fill="#ff3400"/>
<rect x="234.1" y="251.75" width="14.2" height="152.35" fill="#ff4e00"/>
<rect x="234.1" y="255.87" width="14.2" height="148.23" fill="#ff6900"/>
<rect x="234.1" y="259.99" width="14.2" height="144.11" fill="#ff8300"/>
<rect x="234.1" y="264.11" width="14.2" height="140.00" fill="#ff9d00"/>
<rect x="234.1" y="268.22" width="14.2" height="135.88" fill="#ffb700"/>
<rect x="234.1" y="272.34" width="14.2" height="131.76" fill="#ffd100"/>
<rect x="234.1" y="276.46" width="14.2" height="127.64" fill="#ffeb00"/>
<rect x="234.1" y="280.57" width="14.2" height="123.53" fill="#f8ff00"/>
<rect x="234.1" y="284.69" width="14.2" height="119.41" fill="#deff00"/>
<rect x="234.1" y="288.81" width="14.2" height="115.29" fill="#c4ff00"/>
<rect x="234.1" y="292.93" width="14.2" height="111.17" fill="#aaff00"/>
<rect x="234.1" y="297.05" width="14.2" height="107.06" fill="#90ff00"/>
<rect x="234.1" y="301.16" width="14.2" height="102.94" fill="#76ff00"/>
<rect x="234.1" y="305.28" width="14.2" height="98.82" fill="#5cff00"/>
<rect x="234.1" y="309.40" width="14.2" height="94.70" fill="#41ff00"/>
<rect x="234.1" y="313.51" width="14.2" height="90.59" fill="#27ff00"/>
<rect x="234.1" y="317.63" width="14.2" height="86.47" fill="#0dff00"/>
<rect x="234.1" y="321.75" width="14.2" height="82.35" fill="#00ff0d"/>
<rect x="234.1" y="325.87" width="14.2" height="78.23" fill="#00ff27"/>
<rect x="234.1" y="329.99" width="14.2" height="74.12" fill="#00ff41"/>
<rect x="234.1" y="334.10" width="14.2" height="70.00" fill="#00ff5c"/>
<rect x="234.1" y="338.22" width="14.2" height="65.88" fill="#00ff76"/>
<rect x="234.1" y="342.34" width="14.2" height="61.76" fill="#00ff90"/>
<rect x="234.1" y="346.46" width="14.2" height="57.64" fill="#00ffaa"/>
<rect x="234.1" y="350.57" width="14.2" height="53.53" fill="#00ffc4"/>
<rect x="234.1" y="354.69" width="14.2" height="49.41" fill="#00ffde"/>
<rect x="234.1" y="358.81" width="14.2" height="45.29" fill="#00fff8"/>
<rect x="234.1" y="362.93" width="14.2" height="41.18" fill="#00ebff"/>
<rect x="234.1" y="367.04" width="14.2" height="37.06" fill="#00d1ff"/>
<rect x="234.1" y="371.16" width="14.2" height="32.94" fill="#00b7ff"/>
<rect x="234.1" y="375.28" width="14.2" height="28.82" fill="#009dff"/>
<rect x="234.1" y="379.40" width="14.2" height="24.70" fill="#0083ff"/>
<rect x="234.1" y="383.51" width="14.2" height="20.59" fill="#0069ff"/>
<rect x="234.1" y="387.63" width="14.2" height="16.47" fill="#004eff"/>
<rect x="234.1" y="391.75" width="14.2" height="12.35" fill="#0034ff"/>
<rect x="234.1" y="395.87" width="14.2" height="8.24" fill="#001aff"/>
<rect x="234.1" y="399.98" width="14.2" height="4.12" fill="#0000ff"/>
<rect x="234.1" y="239.4" width="14.2" height="164.7" fill="none" stroke="#444" stroke-width=".5"/>
<g font-family="'Liberation Sans',sans-serif" font-size="5.5" fill="#222">
<text x="253.8" y="406.1" textLength="13.6" lengthAdjust="spacingAndGlyphs">0.000</text>
<text x="253.8" y="381.4" textLength="13.6" lengthAdjust="spacingAndGlyphs">3.000</text>
<text x="253.8" y="356.7" textLength="13.6" lengthAdjust="spacingAndGlyphs">6.000</text>
<text x="253.8" y="332" textLength="13.6" lengthAdjust="spacingAndGlyphs">9.000</text>
<text x="253.8" y="307.3" textLength="13.6" lengthAdjust="spacingAndGlyphs">12.00</text>
<text x="253.8" y="282.6" textLength="13.6" lengthAdjust="spacingAndGlyphs">15.00</text>
<text x="253.8" y="257.9" textLength="13.6" lengthAdjust="spacingAndGlyphs">18.00</text>
</g>
<path d="M248.3,404.1h2.2M248.3,379.4h2.2M248.3,354.7h2.2M248.3,330h2.2M248.3,305.3h2.2M248.3,280.6h2.2M248.3,255.9h2.2" stroke="#333" stroke-width=".6" fill="none"/>
<text x="241.2" y="234.2" text-anchor="middle" font-family="'Liberation Sans',sans-serif" font-size="8.8" fill="#222" textLength="23.7" lengthAdjust="spacingAndGlyphs">Q(dB)</text>
</g>
<g id="plot-d">
<clipPath id="cpd"><rect x="313.6" y="237.6" width="167.6" height="167.6"/></clipPath>
<g clip-path="url(#cpd)" shape-rendering="geometricPrecision">
<rect x="313.6" y="237.6" width="167.6" height="167.6" fill="#0000ff"/>
<path d="M301.6,225.6 493.2,225.6 493.2,316.1 490.7,315.5 489.7,316.1 473.2,332.4 464.7,342.2 455.7,354.3 439.5,379.7 431.7,389.3 419.2,408.4 414.7,415.7 414.1,417.2 301.6,417.2 301.6,225.6Z" fill="#0019ff" fill-rule="evenodd"/>
<path d="M301.6,225.6 493.2,225.6 493.2,296.2 491.2,295.7 490.2,296 481.2,305.7 475.2,311.6 452.3,340.7 442.7,350.3 439.2,355.2 426.7,374.7 413.2,392.2 408.1,405.2 403.6,413.2 401.8,417.2 301.6,417.2 301.6,225.6Z" fill="#0032ff" fill-rule="evenodd"/>
<path d="M301.6,225.6 493.2,225.6 493.2,289.2 490.7,289.5 487.7,290.5 484.7,292.1 481.7,294.4 479.8,297.6 477.2,301.1 469.3,310.6 452.7,331.6 437.3,349.7 422.5,370.7 411.7,385.2 408.3,390.2 404.9,396.7 399.5,408.2 397.8,413.2 397.2,417.2 301.6,417.2 301.6,225.6Z" fill="#004bff" fill-rule="evenodd"/>
<path d="M301.6,225.6 493.2,225.6 493.2,283.1 487.2,283.8 482.2,285 481.2,285.6 475.7,294.1 472.1,299.1 453.7,322.5 433.4,347.2 406.4,383.2 400.8,391.7 396.4,399.7 393.6,406.2 391.9,411.7 391.3,417.2 301.6,417.2 301.6,225.6Z" fill="#0064ff" fill-rule="evenodd"/>
<path d="M301.6,225.6 493.2,225.6 493.2,275 489.7,275.3 486.2,276 481.7,277.3 480.7,278.2 471.2,291.9 452.1,316.6 436.2,335.8 409.2,370.9 400.8,381.2 393.4,391.7 387.8,401.7 385.8,406.2 384.4,410.2 383.7,413.7 383.4,417.2 301.6,417.2 301.6,225.6ZM317.1,234.1 315.1,234.8 313.6,236 313,237.1 313,237.6 313.6,238.3 315.1,238.6 318.1,238.5 323,237.6 323.6,237.1 322.6,235.7 320.6,234.5 319.1,234 317.1,234.1Z" fill="#007cff" fill-rule="evenodd"/>
<path d="M301.6,225.6 308.9,225.6 310,233.1 311.3,237.6 312.1,238.7 313.6,239.6 317.1,240.1 321.6,239.8 329.2,238.6 333.9,237.6 334.8,237.1 335,236.1 334.1,225.6 493.2,225.6 493.2,260.8 489.2,259.9 487.2,261.9 481.2,269.7 477,276.1 471.2,284.1 456.2,302.6 447.3,315.1 438.7,324.7 432.7,332.1 425.7,341.9 413.1,357.2 403.3,370.2 397.7,375.7 390.6,384.2 385.1,391.7 378.6,401.7 371.1,414.6 370,417.2 301.6,417.2 301.6,225.6Z" fill="#0095ff" fill-rule="evenodd"/>
<path d="M347.5,225.6 493.2,225.6 493.2,252.6 490.7,252.9 488.2,253.8 486.2,255.3 484.2,257.5 480.2,263 473.8,274.1 468.7,282.1 453.4,302.1 445.4,313.1 430.4,331.2 422.3,341.7 401.8,367.2 394.9,374.7 386.7,384.7 381.3,392.2 372.6,405.5 368.8,412.7 367.9,415.2 367.5,417.2 301.6,417.2 301.6,235.5 305.1,236.4 312.1,240.8 314.1,241.5 316.6,241.7 324.6,241.1 346.4,237.6 347.4,237.1 347.6,236.6 347.5,225.6Z" fill="#00aeff" fill-rule="evenodd"/>
<path d="M360.8,225.6 493.2,225.6 493.2,244.3 490.2,244.7 487.2,245.8 484.4,247.6 482.2,249.9 477.5,258.6 469.9,274.1 462.5,286.1 442,313.6 400.7,364.3 388.6,378.1 382.3,386.2 374.2,397.7 369.3,405.7 366.2,412.2 365.5,414.7 365.2,417.2 301.6,417.2 301.6,240.3 305.1,240.8 313.1,243.2 319.1,243.5 327.6,242.6 358.8,237.6 359.8,237.1 360.1,236.6 360.8,225.6Z" fill="#00c7ff" fill-rule="evenodd"/>
<path d="M376.2,225.6 481.4,225.6 480.5,231.1 478.7,237.1 475.9,243.6 472.5,258.1 469.8,266.1 465.5,275.6 460.7,284.1 441.8,310.1 431.5,323.2 421.5,334.7 397.7,363.7 384.6,378.9 373.9,393.2 368.5,401.2 365.2,407.2 363.1,412.7 362.4,417.2 301.6,417.2 301.6,243.9 314.1,245.3 321.1,245.2 374.1,237.6 375.4,237.1 375.6,236.6 376.2,225.6Z" fill="#00e0ff" fill-rule="evenodd"/>
<path d="M395,225.6 460.3,225.6 460.6,229.1 461.5,232.6 463.3,237.6 465.5,242.1 466.7,245.8 467.7,250.6 468.1,255.1 467.8,259.6 466.7,264.1 464.6,270.1 461.2,277.6 458.3,283.1 455,288.1 440.1,308.6 432.4,318.6 428.2,323.8 419.1,333.7 395.2,362.7 382.6,377.2 370.4,393.2 365.6,400.2 361.9,406.7 359.8,412.2 359.1,417.2 301.6,417.2 301.6,247 314.1,247.4 321.6,247.1 348.1,243.1 386,238.6 391.9,237.6 392.9,237.1 393.3,236.1 394.6,230.1 395,225.6Z" fill="#00f9ff" fill-rule="evenodd"/>
<path d="M417.1,239.1 430.7,238.8 438.7,239.7 446.2,241 450.7,242.3 454.2,243.9 457.2,246 459.7,248.5 462.2,252.1 463.7,255.1 464.3,257.6 464.2,260.1 462.9,265.1 459.3,275.1 457.1,280.1 454.5,284.6 438.7,306.6 428.2,320.6 419.7,329.2 414.9,334.7 390.5,364.2 379.6,376.4 365.6,394.7 361.5,400.7 357.6,407.7 355.5,413.2 354.8,417.2 301.6,417.2 301.6,250 313.1,249.7 321.6,249 348.1,245 373.6,242.1 401.7,239.7 417.1,239.1Z" fill="#00ffec" fill-rule="evenodd"/>
<path d="M400.9,243.1 418.7,243 432.7,244 436.2,244.6 446.2,247.2 449.2,248.5 452.3,250.6 458.7,255.6 460.8,257.6 461.2,258.6 455.4,277.6 453.2,282.1 426.3,319.6 424.7,321.5 419,326.2 415.7,329.5 388.1,362.9 383.7,368.2 376.9,375.2 372.1,381.9 363.1,392.8 359.1,398.1 355.6,403.7 349.1,414.9 348.1,417.2 301.6,417.2 301.6,253 322.1,251 349.1,246.7 373.6,244.2 380.1,244 383.1,243.6 399.2,243.4 400.9,243.1Z" fill="#00ffd3" fill-rule="evenodd"/>
<path d="M399.3,245.1 405.2,244.8 417.2,245 431.2,246.5 435.7,247.5 439.7,248.8 443.5,250.6 446.6,252.6 449.3,255.1 451.6,258.1 452.9,261.1 453.5,264.6 453.4,269.1 452.3,274.6 450.9,279.1 448.6,283.6 440.8,295.6 425.7,316.6 422.7,320.1 416.5,325.7 412.3,330.2 381.7,367.2 375.4,374.2 360.6,393 356.5,398.7 350.4,408.2 347.2,414.2 346.4,417.2 301.6,417.2 301.6,254.8 319.1,253.1 349.6,248.6 369.6,246.5 384.1,245.3 399.3,245.1Z" fill="#00ffbb" fill-rule="evenodd"/>
<path d="M401.1,246.6 417.2,246.8 429.7,248.4 434.2,249.6 437.7,251 440.7,252.7 443.7,255.1 446.2,258.1 448.1,261.6 449,265.1 449.4,269.1 449,273.6 447.9,278.1 446.4,282.1 443.7,287.1 436.2,298.6 424.9,314.1 421,318.6 412.3,327.2 405.7,334.8 374.1,373.2 358.1,393.7 352.4,401.7 348,408.7 345.6,413.7 344.8,417.2 301.6,417.2 301.6,256.4 307.1,256.1 318.6,254.8 347.6,250.6 370.1,248.2 385.1,247 401.1,246.6Z" fill="#00ffa2" fill-rule="evenodd"/>
<path d="M385.6,248.6 406.7,248.2 418.7,248.7 424.7,249.5 430.2,250.6 434.2,252 437.2,253.6 440.3,256.1 442.7,259.1 444.5,262.6 445.6,266.6 446,271.1 445.6,275.6 444.4,280.1 442.5,284.6 435.7,295.6 424.2,311.6 419.2,317.5 408.6,328.2 395.2,344.2 384.6,357.1 354.5,395.7 349.2,403.2 345.5,409.2 343.6,413.7 343,417.2 301.6,417.2 301.6,258.2 314.1,257 352.6,251.8 373.1,249.6 385.6,248.6Z" fill="#00ff89" fill-rule="evenodd"/>
<path d="M387.5,250.1 407.7,249.8 418.7,250.4 423.7,251.1 428.7,252.3 432.7,253.6 435.2,254.9 437.8,257.1 439.9,260.1 441.7,264.1 442.7,268.1 443.1,272.1 442.7,276.6 441.7,280.6 440,284.6 433.6,295.1 423.2,309.6 417.2,316.6 406.2,327.7 389.9,347.2 350.9,397.7 346.2,404.2 343,409.7 341.3,413.7 340.7,417.2 301.6,417.2 301.6,260 311.6,259.1 351.6,253.7 373.6,251.3 387.5,250.1Z" fill="#00ff70" fill-rule="evenodd"/>
<path d="M388.6,251.6 408.7,251.5 418.2,252.1 427.2,253.8 432.2,255.4 434.2,256.4 435.9,258.1 437.8,261.6 439.4,266.1 440.3,270.1 440.5,273.6 440.2,277.6 439.5,280.6 438.1,283.6 431.8,294.1 421.7,308.1 414.5,316.6 407.7,322.9 404.7,326.2 388.1,345.9 381.6,354.2 367.1,374 346,401.2 343.2,405.2 339.7,411.2 338.3,414.7 337.9,417.2 301.6,417.2 301.6,261.9 308.6,261.2 347.1,256 388.6,251.6Z" fill="#00ff57" fill-rule="evenodd"/>
<path d="M385.3,253.6 389.1,253.2 406.2,253.2 417.7,253.8 423.9,255.1 433.2,258.1 434.2,259.7 436.3,265.6 437.9,272.1 437.9,278.1 436.7,281.6 429.9,293.1 419.8,307.1 412.2,316.1 405.5,321.7 381,351.2 367,371.2 361,378.7 353.3,389.2 342.6,402.2 337.1,410.5 333.3,417.2 301.6,417.2 301.6,264 338.6,258.7 385.3,253.6Z" fill="#00ff3e" fill-rule="evenodd"/>
<path d="M389.3,255.1 404.7,255.4 414.2,256.6 417.7,257.3 421.5,258.6 424.6,260.1 427.2,261.8 429.4,264.1 431.3,267.1 432.7,270.6 433.5,274.6 433.5,277.6 432.9,280.6 431.7,284.1 429.8,288.1 424.2,296.9 416.2,307.4 410.7,313.8 402.2,322.2 379.6,349.7 365.6,369.7 340.6,401.9 333.6,413 332.2,415.7 331.8,417.2 301.6,417.2 301.6,265.3 339.1,260.2 369.6,256.9 389.3,255.1Z" fill="#00ff25" fill-rule="evenodd"/>
<path d="M386.7,257.1 398.7,257.2 408.7,258.2 413.2,259.2 417.2,260.6 420.3,262.1 423.2,264 425.7,266.4 427.6,269.1 429,272.1 429.8,275.1 430,278.1 429.6,281.1 428.5,284.6 426.8,288.1 422.4,295.1 416.1,303.6 410.2,310.6 401.6,319.6 380.1,346.1 363.9,368.7 341.6,397.7 337.7,403.2 333.1,410.7 331.2,414.7 330.6,417.2 301.6,417.2 301.6,266.6 307.1,266.1 343.6,261.3 369.6,258.5 386.7,257.1Z" fill="#00ff0c" fill-rule="evenodd"/>
<path d="M382.5,259.1 393.1,258.9 404.7,259.8 412.2,261.7 418.3,264.6 421.2,266.8 423.7,269.4 425.4,272.1 426.6,275.1 427.1,277.6 427,280.6 426.2,283.6 424.9,286.6 421.3,292.6 415.7,300.2 400.7,317.4 392.4,328.2 378.6,345 362.3,367.7 340.5,396.2 336.1,402.7 331.8,409.7 329.9,413.7 329.2,417.2 301.6,417.2 301.6,267.9 307.6,267.4 343.1,262.8 367.1,260.3 382.5,259.1Z" fill="#0cff00" fill-rule="evenodd"/>
<path d="M378.3,261.1 390.1,260.6 401.7,261.4 407.7,262.7 413.7,265.1 416.9,267.1 419.9,269.6 422.2,272.3 423.9,275.1 424.7,277.6 424.9,279.6 424.3,282.1 423.2,284.9 420.2,290.1 415.7,296.4 410.2,303.1 400.2,314.3 391.5,326.2 377.6,343.2 360.3,367.2 339.5,394.7 334.4,402.2 330.2,409.2 328.2,413.7 327.5,417.2 301.6,417.2 301.6,269.3 307.6,268.8 343.1,264.3 363.6,262.2 378.3,261.1Z" fill="#25ff00" fill-rule="evenodd"/>
<path d="M380.6,262.6 390.6,262.4 401.7,263.3 405.7,264.2 410.2,266 415.9,269.6 418.7,272.1 421.2,275 422.5,277.1 423.1,278.6 423,280.1 422.2,282.2 419.4,287.1 414.5,294.1 408.2,301.8 398.2,312.9 391.1,323.7 375.6,342.6 357.2,368.2 349.4,378.2 338.4,393.2 332.6,401.7 328.3,409.2 326,414.2 325.4,417.2 301.6,417.2 301.6,270.8 343.1,265.7 363.1,263.7 380.6,262.6Z" fill="#3eff00" fill-rule="evenodd"/>
<path d="M378.7,264.6 382.1,264.2 391.1,264.3 401.7,265.4 404.7,266.1 410.7,269.1 414.7,272 420.7,278.5 421,279.1 420.7,280.1 417.2,286.1 413,292.1 404.7,302.1 396.1,311.1 390.5,321.1 374.1,341.1 367.1,351.3 354.8,368.2 344.9,380.7 330.7,401.2 325.4,410.7 322.2,417.2 301.6,417.2 301.6,272.4 343.1,267.2 370.1,264.7 378.7,264.6Z" fill="#57ff00" fill-rule="evenodd"/>
<path d="M369.5,266.6 382.6,266.5 389.6,267 398.2,268.8 403.7,271.1 406.2,272.7 408.7,275.1 410.2,277.1 411.4,279.6 411.9,282.1 411.9,284.6 411.4,287.1 410.3,290.1 408.4,293.6 406,297.1 402.3,301.6 394.6,310.1 387.4,321.7 374.1,338.2 356.6,362.6 346.1,375.7 340.6,383.2 332.1,395.4 328.5,401.2 323,411.2 321.1,415.2 320.6,417.2 301.6,417.2 301.6,273.4 317.6,272 343.6,268.8 369.5,266.6Z" fill="#70ff00" fill-rule="evenodd"/>
<path d="M364.7,268.6 374.1,268.3 385.6,269 393.1,270.6 399.2,273.1 401.7,274.7 403.9,276.6 405.7,278.7 406.9,281.1 407.7,283.6 407.9,286.1 407.5,289.1 406.7,291.6 403.4,297.1 393,309.6 386.3,319.6 372.1,338 356.6,359.9 344.8,374.2 338.3,383.2 330,395.2 324.9,403.7 320.5,412.2 319.5,415.2 319.2,417.2 301.6,417.2 301.6,274.3 317.6,273.6 339.6,270.8 364.7,268.6Z" fill="#89ff00" fill-rule="evenodd"/>
<path d="M368.9,270.1 377.1,270.3 385.6,271.4 392,273.1 397.1,275.6 399.7,277.5 401.7,279.4 403.2,281.3 404.3,283.6 404.9,285.6 405.1,288.1 404.8,290.1 403.9,292.6 401.1,297.1 391.3,309.1 385,318.1 371.4,336.2 355.6,358.7 343.6,372.6 336.9,381.7 328.1,394.7 322.4,404.2 318.5,412.2 317.7,414.7 317.4,417.2 301.6,417.2 301.6,275.3 317.6,275.2 342.1,272.1 368.9,270.1Z" fill="#a2ff00" fill-rule="evenodd"/>
<path d="M362.5,272.1 371.6,271.8 378.1,272.3 386.1,273.8 392.1,276 397.6,279.6 401.3,283.6 402.5,285.6 403,287.6 403,289.6 402.4,291.6 399.9,295.6 387.6,311.1 372.6,331.5 354.1,358.2 351.1,361.7 342.6,370.7 336.1,379.4 326.2,394.2 320.5,403.7 316.6,411.7 315.7,414.7 315.3,417.2 301.6,417.2 301.6,276.2 318.1,276.8 337.1,274.2 362.5,272.1Z" fill="#bbff00" fill-rule="evenodd"/>
<path d="M364.4,273.6 371.6,273.5 376.1,273.9 384.6,275.6 389.6,277.4 394.1,280.2 399.7,285.2 401.5,288.1 401.6,289.1 401.2,290.6 398.4,294.6 379.1,319.1 352.5,357.7 350.1,360.5 342.1,368.2 336.6,375.2 324.8,392.7 320.1,400.5 314.5,411.2 313.2,414.7 312.8,417.2 301.6,417.2 301.6,277.2 318.1,278.5 327.6,276.8 336.6,275.7 347.6,274.7 364.4,273.6Z" fill="#d3ff00" fill-rule="evenodd"/>
<path d="M364.8,275.1 373.6,275.1 380.1,276.5 386.6,278.4 390.6,280.5 399.2,287.5 400.1,288.6 399.9,289.6 387.9,305.6 383.1,310.7 381.2,314.1 379.1,315.9 376.5,319.1 351.1,356.7 347.6,360.5 343.1,364 340.6,366.4 336.1,372.1 321.4,394.2 313.3,408.2 309.3,415.7 308.8,417.2 301.6,417.2 301.6,278.4 318.1,280.5 328.1,278.3 332.1,277.7 347.6,276.1 364.8,275.1Z" fill="#ecff00" fill-rule="evenodd"/>
<path d="M355.4,276.6 372.1,276.1 380.1,277.6 385.6,279.3 389.1,281.1 392.6,284.2 397.7,287.8 398.3,288.6 398.1,289.6 386.6,305.8 381.8,311.1 377.2,317.1 374.7,318.6 372.1,321.7 348.6,355.9 346.1,358.7 339.6,364.7 334.1,371.2 328.8,378.7 316.4,398.2 313.1,402.8 310.1,406.1 307.1,408.7 304.1,410.3 301.6,410.9 301.6,281.4 317.6,282.2 332.6,279.2 347.6,277.2 355.4,276.6Z" fill="#fff900" fill-rule="evenodd"/>
<path d="M356.2,277.6 372.6,277.4 379.6,278.5 384.4,280.1 388.1,282.1 393.1,286.4 396.2,288.6 396.2,289.6 386.6,304.1 383.2,308.6 379.6,312.2 377.1,315.9 373.6,317.1 370.4,320.1 347.8,353.2 344.4,357.2 336.1,365.7 330.8,372.2 325.8,379.2 315.8,395.2 313.1,399 310.6,401.6 307.6,403.7 304.6,404.9 301.6,405.4 301.6,284.4 312.6,284.5 317.1,284.2 321.1,282.9 338.1,279.9 350.6,278.1 354.6,278 356.2,277.6Z" fill="#ffe000" fill-rule="evenodd"/>
<path d="M372.2,280.6 374.6,280.5 382.6,281.7 386.2,283.6 388.8,285.6 391.2,288.6 391.5,289.6 390.1,293 388.1,296.5 381.2,307.1 376.6,313.4 374.1,314 372.1,315.1 370.1,316.8 367.8,319.6 356,337.7 345.7,352.2 342,356.7 332.1,367.2 326.1,374.7 312.1,396.9 310.1,398.9 307.6,400.5 304.6,401.5 301.6,401.8 301.6,287.3 315.1,286.7 337.1,283.6 372.2,280.6Z" fill="#ffc700" fill-rule="evenodd"/>
<path d="M337.2,286.1 342.6,285.9 360.1,286 366.1,286.7 370.6,287.9 373.1,289.1 375.1,290.4 376.9,292.1 377.9,293.6 378.5,295.6 378.7,297.6 378.1,302.1 376.8,305.1 374.8,308.1 368.6,314.3 366.1,317.5 355.4,334.7 343.4,351.7 338.8,357.2 328.8,367.7 324,373.7 320.4,379.2 313,392.2 310.6,395.7 309.1,397.3 307.1,398.4 305.1,398.8 301.6,398.7 301.6,290.2 309.1,289.8 325.6,288 337.2,286.1Z" fill="#ffae00" fill-rule="evenodd"/>
<path d="M335.5,288.6 338.6,288.2 341.6,288.3 350.1,289.5 358.6,289.9 364.1,291.2 368.6,293.2 372.1,296 373.4,297.6 374,299.1 374.2,300.6 374,302.1 372.1,305.4 364.9,314.1 360.2,322.7 354.1,332.7 341.5,350.7 337.2,356.2 327.1,366.2 322.9,371.2 318.6,377.5 309.3,394.7 307.6,396.6 306.1,396.9 303.6,395.9 301.6,395.5 301.6,293.4 307.1,292.9 320.1,290.8 326.6,290.8 335.5,288.6Z" fill="#ff9500" fill-rule="evenodd"/>
<path d="M337.3,290.6 340.6,290.6 350.1,293.5 353.1,293.6 356.6,293.3 359.1,293.8 362.5,295.1 366.7,297.6 370.2,300.1 370.7,300.6 370.7,301.1 362.6,311.1 361.2,313.6 358.5,320.6 350.7,333.7 344.3,342.2 336.1,354.2 334.1,356.3 325,364.7 318.6,372.4 316.7,375.2 309.1,389.6 308.6,390.1 305.1,389.1 301.6,388.8 301.6,297.2 320.9,293.1 321.6,293.2 324.6,294.9 325.6,294.9 335.3,291.1 337.3,290.6Z" fill="#ff7c00" fill-rule="evenodd"/>
<path d="M338.1,295.6 341.6,295.8 349.6,297.4 356.1,297.7 358.6,298.6 360.5,300.1 361.4,302.1 361.4,304.1 360.4,307.1 354.9,319.1 349.7,328.2 346.1,333.5 334.1,349.3 330.1,353.8 318.6,365.2 308.6,376.5 305.1,378.9 301.6,379.7 301.6,303.4 307.1,302.8 319.6,299.2 327.1,298.4 334.1,296.3 338.1,295.6Z" fill="#ff6400" fill-rule="evenodd"/>
<path d="M336.2,299.6 340.1,299.7 349.6,302.5 355.6,301.5 356.7,301.6 357.6,302.6 356.6,305.8 354.1,311.8 351,318.1 345.6,327.5 332.6,344.3 323.4,354.2 316.2,360.7 304.1,372.8 303.1,373.5 301.6,373.2 301.6,312.7 312.4,309.1 322.6,302.8 323.6,302.9 326.6,303.9 333.6,300.4 336.2,299.6Z" fill="#ff4b00" fill-rule="evenodd"/>
<path d="M335.5,303.1 337.1,302.8 344.6,304.4 346.5,305.6 347.4,306.6 347.1,308.6 341.6,322.2 332.2,335.7 327.1,341.6 325.6,343 318.6,348.2 306,355.7 301.6,357.9 301.6,323.9 310.6,318.1 316.6,313.2 321.6,309.8 325.4,307.6 335.5,303.1Z" fill="#ff3200" fill-rule="evenodd"/>
<path d="M328.1,311.6 330.1,311.2 331.1,313.1 329.1,319.3 327.1,323.8 324.1,329.1 320.6,332.3 320.1,332.7 319.6,332.5 317.6,331 317.1,329.2 317,322.2 318.1,318.8 319.4,316.6 323.1,313.6 324.8,312.6 328.1,311.6Z" fill="#ff1900" fill-rule="evenodd"/>
<path d="M308.9,225.6 309.2,228.6 310,233.1 310.7,236.1 311.3,237.6 312.1,238.7 313.6,239.6 315.1,240 317.1,240.1 321.6,239.8 329.2,238.6 333.9,237.6 334.8,237.1 335,236.1 334.1,225.6M493.2,260.8 491.2,260.5 489.2,259.9 487.2,261.9 483.8,266.6 481.2,269.7 477,276.1 471.2,284.1 456.2,302.6 447.3,315.1 438.7,324.7 432.7,332.1 425.7,341.9 413.1,357.2 403.3,370.2 397.7,375.7 390.6,384.2 385.1,391.7 378.6,401.7 371.1,414.6 370,417.2M301.6,253 304.1,252.9 322.1,251 349.1,246.7 362.1,245.5 363.6,245.2 367.1,245 368.6,244.7 372.1,244.5 373.6,244.2 380.1,244 383.1,243.6 399.2,243.4 402.2,243 418.7,243 421.7,243.4 426.2,243.5 428.7,243.9 432.7,244 436.2,244.6 446.2,247.2 449.2,248.5 452.3,250.6 458.7,255.6 461.1,258.1 461.1,259.1 459.8,263.6 455.4,277.6 453.2,282.1 450.8,285.6 426.3,319.6 424.7,321.5 419,326.2 415.7,329.5 388.1,362.9 383.7,368.2 376.9,375.2 372.1,381.9 363.1,392.8 359.1,398.1 355.6,403.7 349.1,414.9 348.1,417.2M301.6,264 338.6,258.7 354.6,257 356.1,256.7 359.1,256.5 369.1,255.2 381.6,254 383.1,253.7 389.1,253.2 410.2,253.2 412.7,253.6 417.7,253.8 421.2,254.4 427.3,256.1 433.2,258.1 433.7,258.6 434.7,260.9 436.5,266.1 437.4,269.6 437.9,272.6 438,276.6 437.9,278.1 437.2,280.5 432.2,289.6 428.2,295.7 420.2,306.7 414.8,313.1 411.7,316.6 405.5,321.7 381,351.2 370.3,366.7 367,371.2 361,378.7 353.3,389.2 342.6,402.2 337.1,410.5 333.3,417.2M301.6,272.4 317.1,270.6 334.1,268.2 341.6,267.5 343.1,267.2 346.6,267 348.1,266.7 351.6,266.5 353.1,266.2 356.6,266.1 358.1,265.7 361.6,265.6 363.1,265.2 367.6,265.1 370.1,264.7 379.1,264.6 381.6,264.2 391.1,264.3 397.7,265.2 402.2,265.5 404.7,266.1 406.9,267.1 410.7,269.1 413.6,271.1 419.2,276.6 421,279.1 420.7,280.1 417.2,286.1 413,292.1 404.7,302.1 396.1,311.1 394.8,313.1 392.1,318.4 390.5,321.1 385.8,327.2 374.1,341.1 367.1,351.3 357.6,364.3 354.8,368.2 347.5,377.2 339.2,388.7 333.9,396.2 330.4,401.7 325.1,411.2 322.2,417.2M301.6,278.4 303.6,278.5 314.1,280.1 318.1,280.5 321.1,280 328.1,278.3 342.1,276.6 345.6,276.5 348.1,276.1 353.6,275.9 356.1,275.5 362.6,275.4 365.6,275.1 373.1,275.1 380.6,276.6 386.1,278.2 388.6,279.3 390.6,280.5 399.3,287.6 400.1,288.6 400.1,289.1 399.3,290.6 394.1,297 387.9,305.6 383.2,310.6 381.2,314.1 379.1,315.9 376.5,319.1 351.1,356.7 349.6,358.7 347.6,360.5 343.1,364 340.6,366.4 336.1,372.1 321.4,394.2 313.3,408.2 309.3,415.7 308.8,417.2M301.6,297.2 320.9,293.1 321.6,293.2 324.6,294.9 325.6,294.9 335.6,291 338.1,290.5 339.6,290.4 342.6,291.1 350.1,293.5 353.1,293.6 356.6,293.3 359.6,293.9 362.6,295.2 368.2,298.6 370.7,300.6 370.7,301.1 367.1,305.6 364.6,308.4 362.6,311.1 361.2,313.6 358.5,320.6 354.5,327.7 350.7,333.7 344.3,342.2 336.1,354.2 334.1,356.3 325,364.7 321.5,368.7 318.6,372.4 316.7,375.2 309.1,389.6 308.6,390.1 305.1,389.1 301.6,388.8" fill="none" stroke="#3c3c28" stroke-opacity=".6" stroke-width=".5"/>
</g>
<rect x="313.6" y="237.6" width="167.6" height="167.6" fill="none" stroke="#333" stroke-width=".7"/>
<path d="M313.6,237.6V405.2H481.2" fill="none" stroke="#111" stroke-width=".75"/>
<path d="M313.6,405.2v1.7M324.8,405.2v3.1M335.9,405.2v1.7M347.1,405.2v3.1M358.3,405.2v1.7M369.5,405.2v3.1M380.6,405.2v1.7M391.8,405.2v3.1M403,405.2v1.7M414.2,405.2v3.1M425.3,405.2v1.7M436.5,405.2v3.1M447.7,405.2v1.7M458.9,405.2v3.1M470,405.2v1.7M481.2,405.2v3.1M313.6,405.2h-3.1M313.6,393.2h-1.7M313.6,381.3h-3.1M313.6,369.3h-1.7M313.6,357.3h-3.1M313.6,345.3h-1.7M313.6,333.4h-3.1M313.6,321.4h-1.7M313.6,309.4h-3.1M313.6,297.5h-1.7M313.6,285.5h-3.1M313.6,273.5h-1.7M313.6,261.5h-3.1M313.6,249.6h-1.7M313.6,237.6h-3.1" stroke="#111" stroke-width=".65" fill="none"/>
<g font-family="'Liberation Serif',serif" font-size="7.2" fill="#333">
<text x="324.8" y="416.7" text-anchor="middle">40</text>
<text x="347.1" y="416.7" text-anchor="middle">60</text>
<text x="369.5" y="416.7" text-anchor="middle">80</text>
<text x="391.8" y="416.7" text-anchor="middle">100</text>
<text x="414.2" y="416.7" text-anchor="middle">120</text>
<text x="436.5" y="416.7" text-anchor="middle">140</text>
<text x="458.9" y="416.7" text-anchor="middle">160</text>
<text x="481.2" y="416.7" text-anchor="middle">180</text>
<text x="309.5" y="408.2" text-anchor="end">−5</text>
<text x="309.5" y="384.2" text-anchor="end">0</text>
<text x="309.5" y="360.3" text-anchor="end">5</text>
<text x="309.5" y="336.3" text-anchor="end">10</text>
<text x="309.5" y="312.4" text-anchor="end">15</text>
<text x="309.5" y="288.5" text-anchor="end">20</text>
<text x="309.5" y="264.5" text-anchor="end">25</text>
<text x="309.5" y="240.6" text-anchor="end">30</text>
</g>
<text transform="translate(297.3,321.3) rotate(-90)" text-anchor="middle" font-family="'Liberation Sans',sans-serif" font-size="8.8" fill="#222" textLength="50.3" lengthAdjust="spacingAndGlyphs">Power (dBm)</text>
<text x="397.7" y="429.0" text-anchor="middle" font-family="'Liberation Sans',sans-serif" font-size="8.6" fill="#222" textLength="64.4" lengthAdjust="spacingAndGlyphs">SMF Length (km)</text>
<text x="415.1" y="445.7" text-anchor="middle" font-family="'Liberation Serif',serif" font-size="13" fill="#111">(<tspan font-weight="bold">d</tspan>)</text>
<rect x="508.2" y="239.60" width="13.5" height="163.40" fill="#ff0000"/>
<rect x="508.2" y="243.49" width="13.5" height="159.51" fill="#ff1900"/>
<rect x="508.2" y="247.38" width="13.5" height="155.62" fill="#ff3200"/>
<rect x="508.2" y="251.27" width="13.5" height="151.73" fill="#ff4b00"/>
<rect x="508.2" y="255.16" width="13.5" height="147.84" fill="#ff6400"/>
<rect x="508.2" y="259.05" width="13.5" height="143.95" fill="#ff7c00"/>
<rect x="508.2" y="262.94" width="13.5" height="140.06" fill="#ff9500"/>
<rect x="508.2" y="266.83" width="13.5" height="136.17" fill="#ffae00"/>
<rect x="508.2" y="270.72" width="13.5" height="132.28" fill="#ffc700"/>
<rect x="508.2" y="274.61" width="13.5" height="128.39" fill="#ffe000"/>
<rect x="508.2" y="278.50" width="13.5" height="124.50" fill="#fff900"/>
<rect x="508.2" y="282.40" width="13.5" height="120.60" fill="#ecff00"/>
<rect x="508.2" y="286.29" width="13.5" height="116.71" fill="#d3ff00"/>
<rect x="508.2" y="290.18" width="13.5" height="112.82" fill="#bbff00"/>
<rect x="508.2" y="294.07" width="13.5" height="108.93" fill="#a2ff00"/>
<rect x="508.2" y="297.96" width="13.5" height="105.04" fill="#89ff00"/>
<rect x="508.2" y="301.85" width="13.5" height="101.15" fill="#70ff00"/>
<rect x="508.2" y="305.74" width="13.5" height="97.26" fill="#57ff00"/>
<rect x="508.2" y="309.63" width="13.5" height="93.37" fill="#3eff00"/>
<rect x="508.2" y="313.52" width="13.5" height="89.48" fill="#25ff00"/>
<rect x="508.2" y="317.41" width="13.5" height="85.59" fill="#0cff00"/>
<rect x="508.2" y="321.30" width="13.5" height="81.70" fill="#00ff0c"/>
<rect x="508.2" y="325.19" width="13.5" height="77.81" fill="#00ff25"/>
<rect x="508.2" y="329.08" width="13.5" height="73.92" fill="#00ff3e"/>
<rect x="508.2" y="332.97" width="13.5" height="70.03" fill="#00ff57"/>
<rect x="508.2" y="336.86" width="13.5" height="66.14" fill="#00ff70"/>
<rect x="508.2" y="340.75" width="13.5" height="62.25" fill="#00ff89"/>
<rect x="508.2" y="344.64" width="13.5" height="58.36" fill="#00ffa2"/>
<rect x="508.2" y="348.53" width="13.5" height="54.47" fill="#00ffbb"/>
<rect x="508.2" y="352.42" width="13.5" height="50.58" fill="#00ffd3"/>
<rect x="508.2" y="356.31" width="13.5" height="46.69" fill="#00ffec"/>
<rect x="508.2" y="360.20" width="13.5" height="42.80" fill="#00f9ff"/>
<rect x="508.2" y="364.10" width="13.5" height="38.90" fill="#00e0ff"/>
<rect x="508.2" y="367.99" width="13.5" height="35.01" fill="#00c7ff"/>
<rect x="508.2" y="371.88" width="13.5" height="31.12" fill="#00aeff"/>
<rect x="508.2" y="375.77" width="13.5" height="27.23" fill="#0095ff"/>
<rect x="508.2" y="379.66" width="13.5" height="23.34" fill="#007cff"/>
<rect x="508.2" y="383.55" width="13.5" height="19.45" fill="#0064ff"/>
<rect x="508.2" y="387.44" width="13.5" height="15.56" fill="#004bff"/>
<rect x="508.2" y="391.33" width="13.5" height="11.67" fill="#0032ff"/>
<rect x="508.2" y="395.22" width="13.5" height="7.78" fill="#0019ff"/>
<rect x="508.2" y="399.11" width="13.5" height="3.89" fill="#0000ff"/>
<rect x="508.2" y="239.6" width="13.5" height="163.4" fill="none" stroke="#444" stroke-width=".5"/>
<g font-family="'Liberation Sans',sans-serif" font-size="5.1" fill="#222">
<text x="526.8" y="404.8" textLength="12.6" lengthAdjust="spacingAndGlyphs">0.000</text>
<text x="526.8" y="381.5" textLength="12.6" lengthAdjust="spacingAndGlyphs">3.000</text>
<text x="526.8" y="358.2" textLength="12.6" lengthAdjust="spacingAndGlyphs">6.000</text>
<text x="526.8" y="334.8" textLength="12.6" lengthAdjust="spacingAndGlyphs">9.000</text>
<text x="526.8" y="311.5" textLength="12.6" lengthAdjust="spacingAndGlyphs">12.00</text>
<text x="526.8" y="288.1" textLength="12.6" lengthAdjust="spacingAndGlyphs">15.00</text>
<text x="526.8" y="264.8" textLength="12.6" lengthAdjust="spacingAndGlyphs">18.00</text>
<text x="526.8" y="241.4" textLength="12.6" lengthAdjust="spacingAndGlyphs">21.00</text>
</g>
<path d="M521.7,403h2.2M521.7,379.7h2.2M521.7,356.3h2.2M521.7,333h2.2M521.7,309.6h2.2M521.7,286.3h2.2M521.7,262.9h2.2M521.7,239.6h2.2" stroke="#333" stroke-width=".6" fill="none"/>
<text x="514.8" y="234.2" text-anchor="middle" font-family="'Liberation Sans',sans-serif" font-size="8.4" fill="#222" textLength="22.2" lengthAdjust="spacingAndGlyphs">Q(dB)</text>
</g>
</svg>
</body></html>
